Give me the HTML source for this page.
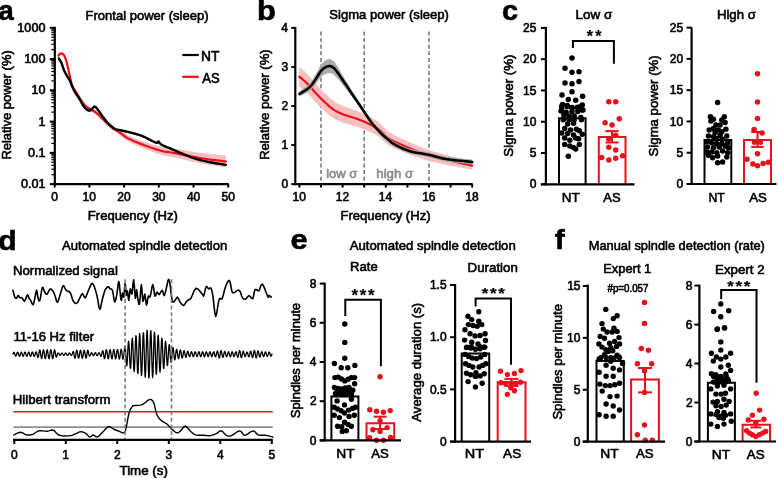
<!DOCTYPE html>
<html><head><meta charset="utf-8"><style>
html,body{margin:0;padding:0;background:#fff;}
svg{display:block;font-family:"Liberation Sans",sans-serif;will-change:transform;}
</style></head><body>
<svg width="778" height="478" viewBox="0 0 778 478">
<rect width="778" height="478" fill="#fff"/>
<text transform="translate(-1.59,20.30) scale(0.9679,1)" font-size="28.3" font-weight="bold" fill="#000" stroke="#000" stroke-width="0.6">a</text>
<text transform="translate(85.53,19.50) scale(0.9729,1)" font-size="13.4" fill="#000" stroke="#000" stroke-width="0.6">Frontal power (sleep)</text>
<line x1="51.30" y1="174.69" x2="54.80" y2="174.69" stroke="#000" stroke-width="1.2"/>
<line x1="51.30" y1="169.19" x2="54.80" y2="169.19" stroke="#000" stroke-width="1.2"/>
<line x1="51.30" y1="165.28" x2="54.80" y2="165.28" stroke="#000" stroke-width="1.2"/>
<line x1="51.30" y1="162.25" x2="54.80" y2="162.25" stroke="#000" stroke-width="1.2"/>
<line x1="51.30" y1="159.77" x2="54.80" y2="159.77" stroke="#000" stroke-width="1.2"/>
<line x1="51.30" y1="157.68" x2="54.80" y2="157.68" stroke="#000" stroke-width="1.2"/>
<line x1="51.30" y1="155.87" x2="54.80" y2="155.87" stroke="#000" stroke-width="1.2"/>
<line x1="51.30" y1="154.27" x2="54.80" y2="154.27" stroke="#000" stroke-width="1.2"/>
<line x1="51.30" y1="143.43" x2="54.80" y2="143.43" stroke="#000" stroke-width="1.2"/>
<line x1="51.30" y1="137.93" x2="54.80" y2="137.93" stroke="#000" stroke-width="1.2"/>
<line x1="51.30" y1="134.02" x2="54.80" y2="134.02" stroke="#000" stroke-width="1.2"/>
<line x1="51.30" y1="130.99" x2="54.80" y2="130.99" stroke="#000" stroke-width="1.2"/>
<line x1="51.30" y1="128.51" x2="54.80" y2="128.51" stroke="#000" stroke-width="1.2"/>
<line x1="51.30" y1="126.42" x2="54.80" y2="126.42" stroke="#000" stroke-width="1.2"/>
<line x1="51.30" y1="124.61" x2="54.80" y2="124.61" stroke="#000" stroke-width="1.2"/>
<line x1="51.30" y1="123.01" x2="54.80" y2="123.01" stroke="#000" stroke-width="1.2"/>
<line x1="51.30" y1="112.17" x2="54.80" y2="112.17" stroke="#000" stroke-width="1.2"/>
<line x1="51.30" y1="106.67" x2="54.80" y2="106.67" stroke="#000" stroke-width="1.2"/>
<line x1="51.30" y1="102.76" x2="54.80" y2="102.76" stroke="#000" stroke-width="1.2"/>
<line x1="51.30" y1="99.73" x2="54.80" y2="99.73" stroke="#000" stroke-width="1.2"/>
<line x1="51.30" y1="97.25" x2="54.80" y2="97.25" stroke="#000" stroke-width="1.2"/>
<line x1="51.30" y1="95.16" x2="54.80" y2="95.16" stroke="#000" stroke-width="1.2"/>
<line x1="51.30" y1="93.35" x2="54.80" y2="93.35" stroke="#000" stroke-width="1.2"/>
<line x1="51.30" y1="91.75" x2="54.80" y2="91.75" stroke="#000" stroke-width="1.2"/>
<line x1="51.30" y1="80.91" x2="54.80" y2="80.91" stroke="#000" stroke-width="1.2"/>
<line x1="51.30" y1="75.41" x2="54.80" y2="75.41" stroke="#000" stroke-width="1.2"/>
<line x1="51.30" y1="71.50" x2="54.80" y2="71.50" stroke="#000" stroke-width="1.2"/>
<line x1="51.30" y1="68.47" x2="54.80" y2="68.47" stroke="#000" stroke-width="1.2"/>
<line x1="51.30" y1="65.99" x2="54.80" y2="65.99" stroke="#000" stroke-width="1.2"/>
<line x1="51.30" y1="63.90" x2="54.80" y2="63.90" stroke="#000" stroke-width="1.2"/>
<line x1="51.30" y1="62.09" x2="54.80" y2="62.09" stroke="#000" stroke-width="1.2"/>
<line x1="51.30" y1="60.49" x2="54.80" y2="60.49" stroke="#000" stroke-width="1.2"/>
<line x1="51.30" y1="49.65" x2="54.80" y2="49.65" stroke="#000" stroke-width="1.2"/>
<line x1="51.30" y1="44.15" x2="54.80" y2="44.15" stroke="#000" stroke-width="1.2"/>
<line x1="51.30" y1="40.24" x2="54.80" y2="40.24" stroke="#000" stroke-width="1.2"/>
<line x1="51.30" y1="37.21" x2="54.80" y2="37.21" stroke="#000" stroke-width="1.2"/>
<line x1="51.30" y1="34.73" x2="54.80" y2="34.73" stroke="#000" stroke-width="1.2"/>
<line x1="51.30" y1="32.64" x2="54.80" y2="32.64" stroke="#000" stroke-width="1.2"/>
<line x1="51.30" y1="30.83" x2="54.80" y2="30.83" stroke="#000" stroke-width="1.2"/>
<line x1="51.30" y1="29.23" x2="54.80" y2="29.23" stroke="#000" stroke-width="1.2"/>
<line x1="49.80" y1="184.10" x2="54.80" y2="184.10" stroke="#000" stroke-width="2"/>
<line x1="49.80" y1="152.84" x2="54.80" y2="152.84" stroke="#000" stroke-width="2"/>
<line x1="49.80" y1="121.58" x2="54.80" y2="121.58" stroke="#000" stroke-width="2"/>
<line x1="49.80" y1="90.32" x2="54.80" y2="90.32" stroke="#000" stroke-width="2"/>
<line x1="49.80" y1="59.06" x2="54.80" y2="59.06" stroke="#000" stroke-width="2"/>
<line x1="49.80" y1="27.80" x2="54.80" y2="27.80" stroke="#000" stroke-width="2"/>
<line x1="54.80" y1="26.80" x2="54.80" y2="185.10" stroke="#000" stroke-width="2.2"/>
<line x1="53.80" y1="184.10" x2="228.70" y2="184.10" stroke="#000" stroke-width="2.2"/>
<line x1="54.70" y1="184.10" x2="54.70" y2="187.60" stroke="#000" stroke-width="2"/>
<line x1="89.40" y1="184.10" x2="89.40" y2="187.60" stroke="#000" stroke-width="2"/>
<line x1="124.10" y1="184.10" x2="124.10" y2="187.60" stroke="#000" stroke-width="2"/>
<line x1="158.80" y1="184.10" x2="158.80" y2="187.60" stroke="#000" stroke-width="2"/>
<line x1="193.50" y1="184.10" x2="193.50" y2="187.60" stroke="#000" stroke-width="2"/>
<line x1="228.20" y1="184.10" x2="228.20" y2="187.60" stroke="#000" stroke-width="2"/>
<text transform="translate(17.37,31.90) scale(1.0500,1)" font-size="12" fill="#000" stroke="#000" stroke-width="0.6">1000</text>
<text transform="translate(24.37,63.16) scale(1.0500,1)" font-size="12" fill="#000" stroke="#000" stroke-width="0.6">100</text>
<text transform="translate(31.38,94.42) scale(1.0500,1)" font-size="12" fill="#000" stroke="#000" stroke-width="0.6">10</text>
<text transform="translate(38.51,125.68) scale(1.0500,1)" font-size="12" fill="#000" stroke="#000" stroke-width="0.6">1</text>
<text transform="translate(28.00,156.94) scale(1.0500,1)" font-size="12" fill="#000" stroke="#000" stroke-width="0.6">0.1</text>
<text transform="translate(21.00,188.20) scale(1.0500,1)" font-size="12" fill="#000" stroke="#000" stroke-width="0.6">0.01</text>
<text transform="translate(51.36,200.80) scale(1.0000,1)" font-size="12" fill="#000" stroke="#000" stroke-width="0.6">0</text>
<text transform="translate(82.51,200.80) scale(1.0000,1)" font-size="12" fill="#000" stroke="#000" stroke-width="0.6">10</text>
<text transform="translate(117.36,200.80) scale(1.0000,1)" font-size="12" fill="#000" stroke="#000" stroke-width="0.6">20</text>
<text transform="translate(152.13,200.80) scale(1.0000,1)" font-size="12" fill="#000" stroke="#000" stroke-width="0.6">30</text>
<text transform="translate(186.92,200.80) scale(1.0000,1)" font-size="12" fill="#000" stroke="#000" stroke-width="0.6">40</text>
<text transform="translate(221.52,200.80) scale(1.0000,1)" font-size="12" fill="#000" stroke="#000" stroke-width="0.6">50</text>
<text transform="translate(10.70,159.56) rotate(-90) scale(0.9520,1)" font-size="13.6" fill="#000" stroke="#000" stroke-width="0.6">Relative power (%)</text>
<text transform="translate(87.83,219.70) scale(0.9767,1)" font-size="13.4" fill="#000" stroke="#000" stroke-width="0.6">Frequency (Hz)</text>
<line x1="182.30" y1="55.00" x2="198.80" y2="55.00" stroke="#000" stroke-width="2.2"/>
<line x1="182.30" y1="76.80" x2="198.80" y2="76.80" stroke="#e8101a" stroke-width="2.2"/>
<text transform="translate(201.06,60.90) scale(0.9681,1)" font-size="14.3" fill="#000" stroke="#000" stroke-width="0.6">NT</text>
<text transform="translate(202.17,82.90) scale(0.9135,1)" font-size="14.3" fill="#000" stroke="#000" stroke-width="0.6">AS</text>
<path d="M58.40,53.90 L58.67,53.56 L59.04,53.06 L59.49,52.51 L59.98,52.05 L60.50,51.80 L61.06,51.73 L61.69,51.76 L62.34,51.94 L62.99,52.30 L63.60,52.90 L64.17,53.74 L64.72,54.81 L65.25,56.07 L65.78,57.50 L66.30,59.10 L66.80,60.88 L67.28,62.84 L67.76,64.97 L68.26,67.23 L68.80,69.60 L69.38,72.22 L69.98,75.11 L70.61,78.06 L71.28,80.83 L72.00,83.20 L72.76,85.06 L73.56,86.56 L74.40,87.87 L75.28,89.16 L76.20,90.60 L77.18,92.23 L78.21,93.95 L79.27,95.68 L80.34,97.35 L81.40,98.90 L82.40,100.32 L83.37,101.66 L84.36,102.93 L85.42,104.11 L86.60,105.20 L87.96,106.16 L89.45,106.98 L91.01,107.72 L92.56,108.45 L94.00,109.28 L95.33,110.19 L96.60,111.15 L97.84,112.15 L99.06,113.19 L100.30,114.28 L101.54,115.45 L102.78,116.69 L104.02,117.97 L105.26,119.22 L106.50,120.39 L107.75,121.49 L109.01,122.56 L110.28,123.59 L111.54,124.57 L112.80,125.50 L114.02,126.32 L115.20,127.05 L116.41,127.76 L117.69,128.52 L119.10,129.40 L120.62,130.46 L122.22,131.63 L123.92,132.86 L125.77,134.08 L127.80,135.23 L130.10,136.32 L132.64,137.40 L135.29,138.44 L137.92,139.43 L140.40,140.34 L142.70,141.18 L144.92,141.94 L147.08,142.65 L149.23,143.33 L151.40,144.00 L153.58,144.68 L155.73,145.34 L157.89,145.97 L160.10,146.55 L162.40,147.06 L164.75,147.46 L167.14,147.76 L169.60,148.02 L172.17,148.31 L174.90,148.68 L177.84,149.16 L180.95,149.71 L184.17,150.29 L187.41,150.86 L190.60,151.39 L193.68,151.87 L196.69,152.33 L199.74,152.77 L202.91,153.19 L206.30,153.61 L210.28,154.04 L214.80,154.48 L219.28,154.90 L223.17,155.25 L225.90,155.50 L225.90,167.50 L223.17,167.08 L219.28,166.48 L214.80,165.79 L210.28,165.07 L206.30,164.39 L202.91,163.77 L199.74,163.15 L196.69,162.52 L193.68,161.88 L190.60,161.21 L187.41,160.48 L184.17,159.71 L180.95,158.93 L177.84,158.18 L174.90,157.52 L172.17,156.98 L169.60,156.54 L167.14,156.13 L164.75,155.68 L162.40,155.14 L160.10,154.48 L157.89,153.77 L155.73,153.00 L153.58,152.20 L151.40,151.40 L149.23,150.59 L147.08,149.78 L144.92,148.93 L142.70,148.03 L140.40,147.06 L137.92,145.99 L135.29,144.84 L132.64,143.63 L130.10,142.40 L127.80,141.17 L125.77,139.89 L123.92,138.55 L122.22,137.22 L120.62,135.95 L119.10,134.80 L117.69,133.83 L116.41,132.99 L115.20,132.21 L114.02,131.41 L112.80,130.50 L111.54,129.50 L110.28,128.44 L109.01,127.34 L107.75,126.19 L106.50,125.01 L105.26,123.76 L104.02,122.43 L102.78,121.08 L101.54,119.76 L100.30,118.52 L99.06,117.35 L97.84,116.23 L96.60,115.16 L95.33,114.12 L94.00,113.12 L92.56,112.21 L91.01,111.38 L89.45,110.58 L87.96,109.76 L86.60,108.80 L85.42,107.71 L84.36,106.53 L83.37,105.26 L82.40,103.92 L81.40,102.50 L80.34,100.95 L79.27,99.28 L78.21,97.55 L77.18,95.83 L76.20,94.20 L75.28,92.76 L74.40,91.47 L73.56,90.16 L72.76,88.66 L72.00,86.80 L71.28,84.43 L70.61,81.66 L69.98,78.71 L69.38,75.82 L68.80,73.20 L68.26,70.83 L67.76,68.57 L67.28,66.44 L66.80,64.48 L66.30,62.70 L65.78,61.10 L65.25,59.67 L64.72,58.41 L64.17,57.34 L63.60,56.50 L62.99,55.90 L62.34,55.54 L61.69,55.36 L61.06,55.33 L60.50,55.40 L59.98,55.65 L59.49,56.11 L59.04,56.66 L58.67,57.16 L58.40,57.50Z" fill="#f8bfbf" stroke="none"/>
<polyline points="58.40,55.70 58.67,55.36 59.04,54.86 59.49,54.31 59.98,53.85 60.50,53.60 61.06,53.53 61.69,53.56 62.34,53.74 62.99,54.10 63.60,54.70 64.17,55.54 64.72,56.61 65.25,57.87 65.78,59.30 66.30,60.90 66.80,62.68 67.28,64.64 67.76,66.77 68.26,69.03 68.80,71.40 69.38,74.02 69.98,76.91 70.61,79.86 71.28,82.63 72.00,85.00 72.76,86.86 73.56,88.36 74.40,89.67 75.28,90.96 76.20,92.40 77.18,94.03 78.21,95.75 79.27,97.48 80.34,99.15 81.40,100.70 82.40,102.12 83.37,103.46 84.36,104.73 85.42,105.91 86.60,107.00 87.96,107.96 89.45,108.78 91.01,109.55 92.56,110.33 94.00,111.20 95.33,112.16 96.60,113.16 97.84,114.19 99.06,115.27 100.30,116.40 101.54,117.61 102.78,118.89 104.02,120.20 105.26,121.49 106.50,122.70 107.75,123.84 109.01,124.95 110.28,126.01 111.54,127.03 112.80,128.00 114.02,128.86 115.20,129.63 116.41,130.37 117.69,131.17 119.10,132.10 120.62,133.20 122.22,134.42 123.92,135.71 125.77,136.99 127.80,138.20 130.10,139.36 132.64,140.52 135.29,141.64 137.92,142.71 140.40,143.70 142.70,144.61 144.92,145.44 147.08,146.22 149.23,146.96 151.40,147.70 153.58,148.44 155.73,149.17 157.89,149.87 160.10,150.52 162.40,151.10 164.75,151.57 167.14,151.94 169.60,152.28 172.17,152.65 174.90,153.10 177.84,153.67 180.95,154.32 184.17,155.00 187.41,155.67 190.60,156.30 193.68,156.88 196.69,157.43 199.74,157.96 202.91,158.48 206.30,159.00 210.28,159.55 214.80,160.13 219.28,160.69 223.17,161.16 225.90,161.50" fill="none" stroke="#e8101a" stroke-width="2.2" stroke-linejoin="round" stroke-linecap="round"/>
<polyline points="58.80,58.40 59.18,59.00 59.71,59.83 60.33,60.82 60.96,61.90 61.50,63.00 61.94,64.15 62.33,65.40 62.71,66.70 63.12,68.01 63.60,69.30 64.17,70.58 64.81,71.87 65.47,73.16 66.15,74.41 66.80,75.60 67.44,76.71 68.10,77.75 68.74,78.77 69.35,79.77 69.90,80.80 70.37,81.84 70.76,82.86 71.14,83.90 71.53,84.97 72.00,86.10 72.54,87.30 73.12,88.55 73.73,89.84 74.39,91.13 75.10,92.40 75.87,93.63 76.70,94.83 77.57,96.04 78.44,97.28 79.30,98.60 80.14,100.05 80.98,101.63 81.82,103.21 82.66,104.71 83.50,106.00 84.36,107.11 85.23,108.11 86.10,108.98 86.93,109.68 87.70,110.20 88.38,110.53 88.99,110.68 89.56,110.66 90.15,110.50 90.80,110.20 91.52,109.60 92.28,108.67 93.06,107.69 93.84,106.92 94.60,106.60 95.31,106.80 95.98,107.34 96.65,108.15 97.38,109.13 98.20,110.20 99.14,111.44 100.16,112.90 101.24,114.47 102.33,116.04 103.40,117.50 104.42,118.84 105.43,120.14 106.44,121.41 107.49,122.63 108.60,123.80 109.81,124.98 111.10,126.16 112.41,127.27 113.70,128.24 114.90,129.00 115.90,129.46 116.74,129.66 117.59,129.75 118.62,129.85 120.00,130.10 121.82,130.51 123.98,131.00 126.32,131.54 128.71,132.12 131.00,132.70 133.23,133.28 135.48,133.86 137.72,134.48 139.90,135.15 142.00,135.90 144.04,136.78 146.06,137.79 148.00,138.82 149.80,139.79 151.40,140.60 152.81,141.27 154.07,141.88 155.18,142.37 156.12,142.72 156.90,142.90 157.43,142.76 157.71,142.34 157.87,141.83 158.06,141.45 158.40,141.40 158.84,141.76 159.30,142.40 159.85,143.19 160.59,144.03 161.60,144.80 162.91,145.48 164.46,146.13 166.21,146.81 168.14,147.56 170.20,148.40 172.47,149.39 174.96,150.50 177.58,151.67 180.22,152.82 182.80,153.90 185.30,154.92 187.80,155.91 190.30,156.87 192.80,157.77 195.30,158.60 197.73,159.34 200.07,159.99 202.47,160.60 205.03,161.19 207.90,161.80 211.44,162.48 215.58,163.20 219.74,163.89 223.37,164.48 225.90,164.90" fill="none" stroke="#000" stroke-width="2.4" stroke-linejoin="round" stroke-linecap="round"/>
<text transform="translate(256.97,19.80) scale(1.0867,1)" font-size="28.3" font-weight="bold" fill="#000" stroke="#000" stroke-width="0.6">b</text>
<text transform="translate(329.30,18.90) scale(0.9734,1)" font-size="13.4" fill="#000" stroke="#000" stroke-width="0.6">Sigma power (sleep)</text>
<line x1="321.00" y1="31.50" x2="321.00" y2="184.10" stroke="#7a7a7a" stroke-width="1.6" stroke-dasharray="4,2.6"/>
<line x1="364.20" y1="31.50" x2="364.20" y2="184.10" stroke="#7a7a7a" stroke-width="1.6" stroke-dasharray="4,2.6"/>
<line x1="429.00" y1="31.50" x2="429.00" y2="184.10" stroke="#7a7a7a" stroke-width="1.6" stroke-dasharray="4,2.6"/>
<text transform="translate(326.13,177.80) scale(0.9977,1)" font-size="13" fill="#8a8a8a" stroke="#8a8a8a" stroke-width="0.6">low σ</text>
<text transform="translate(376.29,177.80) scale(1.0196,1)" font-size="13" fill="#8a8a8a" stroke="#8a8a8a" stroke-width="0.6">high σ</text>
<path d="M299.20,66.80 L300.34,67.77 L301.96,69.16 L303.84,70.81 L305.79,72.58 L307.60,74.36 L309.26,76.17 L310.92,78.13 L312.58,80.14 L314.24,82.13 L315.90,84.04 L317.57,85.85 L319.25,87.63 L320.94,89.37 L322.62,91.07 L324.30,92.72 L325.98,94.35 L327.66,95.96 L329.35,97.52 L331.03,98.98 L332.70,100.30 L334.36,101.48 L336.02,102.54 L337.68,103.49 L339.34,104.36 L341.00,105.18 L342.67,105.92 L344.35,106.55 L346.04,107.13 L347.72,107.68 L349.40,108.27 L351.08,108.86 L352.76,109.43 L354.45,110.00 L356.13,110.60 L357.80,111.25 L359.46,111.94 L361.12,112.67 L362.78,113.43 L364.44,114.22 L366.10,115.03 L367.82,115.89 L369.59,116.80 L371.34,117.73 L373.00,118.64 L374.50,119.51 L375.73,120.26 L376.75,120.89 L377.70,121.55 L378.74,122.34 L380.00,123.40 L381.48,124.81 L383.07,126.50 L384.80,128.32 L386.71,130.14 L388.80,131.79 L391.14,133.29 L393.70,134.70 L396.41,136.07 L399.20,137.41 L402.00,138.74 L404.88,140.08 L407.88,141.41 L410.90,142.72 L413.84,143.96 L416.60,145.13 L419.03,146.19 L421.21,147.16 L423.33,148.07 L425.63,148.98 L428.30,149.93 L431.30,150.89 L434.50,151.83 L437.95,152.79 L441.73,153.81 L445.90,154.92 L451.02,156.26 L457.06,157.79 L463.16,159.33 L468.48,160.67 L472.20,161.61 L472.20,169.59 L468.48,168.91 L463.16,167.93 L457.06,166.80 L451.02,165.67 L445.90,164.68 L441.73,163.85 L437.95,163.09 L434.50,162.36 L431.30,161.63 L428.30,160.87 L425.63,160.11 L423.33,159.35 L421.21,158.58 L419.03,157.76 L416.60,156.87 L413.84,155.89 L410.90,154.84 L407.88,153.74 L404.88,152.61 L402.00,151.46 L399.20,150.32 L396.41,149.17 L393.70,147.98 L391.14,146.74 L388.80,145.41 L386.71,143.89 L384.80,142.20 L383.07,140.50 L381.48,138.92 L380.00,137.60 L378.74,136.63 L377.70,135.91 L376.75,135.32 L375.73,134.75 L374.50,134.09 L373.00,133.32 L371.34,132.52 L369.59,131.71 L367.82,130.92 L366.10,130.17 L364.44,129.47 L362.78,128.79 L361.12,128.15 L359.46,127.53 L357.80,126.95 L356.13,126.42 L354.45,125.93 L352.76,125.47 L351.08,125.01 L349.40,124.53 L347.72,124.07 L346.04,123.62 L344.35,123.16 L342.67,122.64 L341.00,122.02 L339.34,121.31 L337.68,120.55 L336.02,119.71 L334.36,118.76 L332.70,117.70 L331.03,116.48 L329.35,115.14 L327.66,113.70 L325.98,112.20 L324.30,110.68 L322.62,109.14 L320.94,107.56 L319.25,105.94 L317.57,104.27 L315.90,102.56 L314.24,100.77 L312.58,98.89 L310.92,96.99 L309.26,95.15 L307.60,93.44 L305.79,91.79 L303.84,90.15 L301.96,88.63 L300.34,87.35 L299.20,86.40Z" fill="#f8bfbf" stroke="none"/>
<polyline points="299.20,76.60 300.34,77.56 301.96,78.89 303.84,80.48 305.79,82.19 307.60,83.90 309.26,85.66 310.92,87.56 312.58,89.51 314.24,91.45 315.90,93.30 317.57,95.06 319.25,96.78 320.94,98.47 322.62,100.11 324.30,101.70 325.98,103.27 327.66,104.83 329.35,106.33 331.03,107.73 332.70,109.00 334.36,110.12 336.02,111.12 337.68,112.02 339.34,112.84 341.00,113.60 342.67,114.28 344.35,114.85 346.04,115.37 347.72,115.88 349.40,116.40 351.08,116.93 352.76,117.45 354.45,117.97 356.13,118.51 357.80,119.10 359.46,119.74 361.12,120.41 362.78,121.11 364.44,121.84 366.10,122.60 367.82,123.40 369.59,124.25 371.34,125.12 373.00,125.98 374.50,126.80 375.73,127.50 376.75,128.10 377.70,128.73 378.74,129.49 380.00,130.50 381.48,131.86 383.07,133.50 384.80,135.26 386.71,137.01 388.80,138.60 391.14,140.01 393.70,141.34 396.41,142.62 399.20,143.86 402.00,145.10 404.88,146.34 407.88,147.58 410.90,148.78 413.84,149.93 416.60,151.00 419.03,151.98 421.21,152.87 423.33,153.71 425.63,154.54 428.30,155.40 431.30,156.26 434.50,157.09 437.95,157.94 441.73,158.83 445.90,159.80 451.02,160.96 457.06,162.30 463.16,163.63 468.48,164.79 472.20,165.60" fill="none" stroke="#e8101a" stroke-width="2.2" stroke-linejoin="round" stroke-linecap="round"/>
<path d="M299.40,91.28 L300.02,90.89 L300.90,90.34 L301.92,89.69 L302.99,88.98 L304.00,88.27 L304.97,87.56 L305.98,86.79 L306.99,86.00 L307.94,85.18 L308.80,84.38 L309.54,83.60 L310.20,82.84 L310.80,82.07 L311.39,81.27 L312.00,80.41 L312.63,79.47 L313.25,78.49 L313.86,77.46 L314.48,76.41 L315.10,75.34 L315.72,74.25 L316.34,73.11 L316.96,71.97 L317.58,70.83 L318.20,69.73 L318.82,68.64 L319.44,67.54 L320.05,66.48 L320.67,65.47 L321.30,64.55 L321.93,63.73 L322.56,62.97 L323.19,62.29 L323.84,61.67 L324.50,61.11 L325.19,60.61 L325.90,60.18 L326.62,59.81 L327.33,59.53 L328.00,59.32 L328.63,59.18 L329.24,59.10 L329.82,59.10 L330.41,59.19 L331.00,59.36 L331.59,59.63 L332.18,59.97 L332.76,60.40 L333.37,60.94 L334.00,61.58 L334.67,62.36 L335.36,63.27 L336.08,64.28 L336.79,65.34 L337.50,66.42 L338.12,67.40 L338.66,68.30 L339.25,69.29 L339.99,70.57 L341.00,72.31 L342.37,74.63 L344.01,77.42 L345.80,80.46 L347.64,83.52 L349.40,86.41 L351.10,89.15 L352.81,91.89 L354.52,94.56 L356.19,97.16 L357.80,99.64 L359.33,101.99 L360.80,104.25 L362.23,106.44 L363.66,108.60 L365.10,110.75 L366.54,112.91 L367.97,115.06 L369.40,117.18 L370.87,119.27 L372.40,121.29 L374.04,123.31 L375.79,125.32 L377.55,127.27 L379.24,129.09 L380.80,130.70 L382.16,132.04 L383.37,133.17 L384.52,134.17 L385.71,135.14 L387.00,136.20 L388.32,137.33 L389.60,138.46 L390.98,139.61 L392.60,140.78 L394.60,142.00 L397.02,143.32 L399.76,144.72 L402.77,146.13 L405.97,147.45 L409.30,148.60 L412.85,149.52 L416.66,150.26 L420.59,150.92 L424.52,151.57 L428.30,152.30 L431.77,153.14 L435.02,154.04 L438.30,154.94 L441.85,155.81 L445.90,156.60 L451.02,157.33 L457.06,158.04 L463.16,158.68 L468.48,159.21 L472.20,159.60 L472.20,164.40 L468.48,164.01 L463.16,163.48 L457.06,162.84 L451.02,162.13 L445.90,161.40 L441.85,160.61 L438.30,159.74 L435.02,158.84 L431.77,157.94 L428.30,157.10 L424.52,156.37 L420.59,155.72 L416.66,155.06 L412.85,154.32 L409.30,153.40 L405.97,152.25 L402.77,150.93 L399.76,149.52 L397.02,148.12 L394.60,146.80 L392.60,145.58 L390.98,144.41 L389.60,143.26 L388.32,142.13 L387.00,141.00 L385.71,139.94 L384.52,138.97 L383.37,137.97 L382.16,136.85 L380.80,135.50 L379.24,133.89 L377.55,132.07 L375.79,130.13 L374.04,128.12 L372.40,126.11 L370.87,124.09 L369.40,122.01 L367.97,119.91 L366.54,117.78 L365.10,115.65 L363.66,113.54 L362.23,111.44 L360.80,109.33 L359.33,107.17 L357.80,104.96 L356.19,102.67 L354.52,100.33 L352.81,97.98 L351.10,95.65 L349.40,93.39 L347.64,91.09 L345.80,88.72 L344.01,86.44 L342.37,84.39 L341.00,82.69 L339.99,81.43 L339.25,80.49 L338.66,79.75 L338.12,79.09 L337.50,78.38 L336.79,77.59 L336.08,76.81 L335.36,76.07 L334.67,75.39 L334.00,74.82 L333.37,74.35 L332.76,73.96 L332.18,73.66 L331.59,73.42 L331.00,73.24 L330.41,73.12 L329.82,73.08 L329.24,73.10 L328.63,73.17 L328.00,73.28 L327.33,73.44 L326.62,73.64 L325.90,73.88 L325.19,74.16 L324.50,74.49 L323.84,74.86 L323.19,75.28 L322.56,75.74 L321.93,76.26 L321.30,76.85 L320.67,77.51 L320.05,78.25 L319.44,79.05 L318.82,79.86 L318.20,80.67 L317.58,81.49 L316.96,82.34 L316.34,83.20 L315.72,84.04 L315.10,84.86 L314.48,85.65 L313.86,86.43 L313.25,87.19 L312.63,87.91 L312.00,88.59 L311.39,89.22 L310.80,89.80 L310.20,90.35 L309.54,90.88 L308.80,91.42 L307.94,91.97 L306.99,92.52 L305.98,93.06 L304.97,93.60 L304.00,94.13 L302.99,94.66 L301.92,95.22 L300.90,95.74 L300.02,96.19 L299.40,96.52Z" fill="#ababab" stroke="none"/>
<polyline points="299.40,93.90 300.02,93.54 300.90,93.04 301.92,92.45 302.99,91.82 304.00,91.20 304.97,90.58 305.98,89.93 306.99,89.26 307.94,88.58 308.80,87.90 309.54,87.24 310.20,86.60 310.80,85.94 311.39,85.25 312.00,84.50 312.63,83.69 313.25,82.84 313.86,81.94 314.48,81.03 315.10,80.10 315.72,79.15 316.34,78.16 316.96,77.16 317.58,76.16 318.20,75.20 318.82,74.25 319.44,73.29 320.05,72.37 320.67,71.49 321.30,70.70 321.93,70.00 322.56,69.36 323.19,68.78 323.84,68.26 324.50,67.80 325.19,67.39 325.90,67.03 326.62,66.72 327.33,66.48 328.00,66.30 328.63,66.17 329.24,66.10 329.82,66.09 330.41,66.15 331.00,66.30 331.59,66.52 332.18,66.81 332.76,67.18 333.37,67.64 334.00,68.20 334.67,68.88 335.36,69.67 336.08,70.54 336.79,71.47 337.50,72.40 338.12,73.25 338.66,74.02 339.25,74.89 339.99,76.00 341.00,77.50 342.37,79.51 344.01,81.93 345.80,84.59 347.64,87.30 349.40,89.90 351.10,92.40 352.81,94.93 354.52,97.45 356.19,99.92 357.80,102.30 359.33,104.58 360.80,106.79 362.23,108.94 363.66,111.07 365.10,113.20 366.54,115.34 367.97,117.48 369.40,119.60 370.87,121.68 372.40,123.70 374.04,125.71 375.79,127.73 377.55,129.67 379.24,131.49 380.80,133.10 382.16,134.44 383.37,135.57 384.52,136.57 385.71,137.54 387.00,138.60 388.32,139.73 389.60,140.86 390.98,142.01 392.60,143.18 394.60,144.40 397.02,145.72 399.76,147.12 402.77,148.53 405.97,149.85 409.30,151.00 412.85,151.92 416.66,152.66 420.59,153.32 424.52,153.97 428.30,154.70 431.77,155.54 435.02,156.44 438.30,157.34 441.85,158.21 445.90,159.00 451.02,159.73 457.06,160.44 463.16,161.08 468.48,161.61 472.20,162.00" fill="none" stroke="#000" stroke-width="2.6" stroke-linejoin="round" stroke-linecap="round"/>
<line x1="291.30" y1="184.10" x2="295.30" y2="184.10" stroke="#000" stroke-width="2"/>
<line x1="291.30" y1="145.05" x2="295.30" y2="145.05" stroke="#000" stroke-width="2"/>
<line x1="291.30" y1="106.00" x2="295.30" y2="106.00" stroke="#000" stroke-width="2"/>
<line x1="291.30" y1="66.95" x2="295.30" y2="66.95" stroke="#000" stroke-width="2"/>
<line x1="291.30" y1="27.90" x2="295.30" y2="27.90" stroke="#000" stroke-width="2"/>
<line x1="295.30" y1="26.90" x2="295.30" y2="185.10" stroke="#000" stroke-width="2.2"/>
<line x1="294.30" y1="184.10" x2="472.70" y2="184.10" stroke="#000" stroke-width="2.2"/>
<line x1="299.40" y1="184.10" x2="299.40" y2="187.60" stroke="#000" stroke-width="2"/>
<line x1="321.00" y1="184.10" x2="321.00" y2="187.60" stroke="#000" stroke-width="2"/>
<line x1="342.60" y1="184.10" x2="342.60" y2="187.60" stroke="#000" stroke-width="2"/>
<line x1="364.20" y1="184.10" x2="364.20" y2="187.60" stroke="#000" stroke-width="2"/>
<line x1="385.80" y1="184.10" x2="385.80" y2="187.60" stroke="#000" stroke-width="2"/>
<line x1="407.40" y1="184.10" x2="407.40" y2="187.60" stroke="#000" stroke-width="2"/>
<line x1="429.00" y1="184.10" x2="429.00" y2="187.60" stroke="#000" stroke-width="2"/>
<line x1="450.60" y1="184.10" x2="450.60" y2="187.60" stroke="#000" stroke-width="2"/>
<line x1="472.20" y1="184.10" x2="472.20" y2="187.60" stroke="#000" stroke-width="2"/>
<text transform="translate(281.40,188.20) scale(1.0000,1)" font-size="12" fill="#000" stroke="#000" stroke-width="0.6">0</text>
<text transform="translate(281.52,149.15) scale(1.0000,1)" font-size="12" fill="#000" stroke="#000" stroke-width="0.6">1</text>
<text transform="translate(281.53,110.10) scale(1.0000,1)" font-size="12" fill="#000" stroke="#000" stroke-width="0.6">2</text>
<text transform="translate(281.46,71.05) scale(1.0000,1)" font-size="12" fill="#000" stroke="#000" stroke-width="0.6">3</text>
<text transform="translate(281.28,32.00) scale(1.0000,1)" font-size="12" fill="#000" stroke="#000" stroke-width="0.6">4</text>
<text transform="translate(292.51,200.80) scale(1.0000,1)" font-size="12" fill="#000" stroke="#000" stroke-width="0.6">10</text>
<text transform="translate(335.77,200.80) scale(1.0000,1)" font-size="12" fill="#000" stroke="#000" stroke-width="0.6">12</text>
<text transform="translate(378.85,200.80) scale(1.0000,1)" font-size="12" fill="#000" stroke="#000" stroke-width="0.6">14</text>
<text transform="translate(422.14,200.80) scale(1.0000,1)" font-size="12" fill="#000" stroke="#000" stroke-width="0.6">16</text>
<text transform="translate(465.33,200.80) scale(1.0000,1)" font-size="12" fill="#000" stroke="#000" stroke-width="0.6">18</text>
<text transform="translate(269.20,159.87) rotate(-90) scale(0.9770,1)" font-size="13.4" fill="#000" stroke="#000" stroke-width="0.6">Relative power (%)</text>
<text transform="translate(340.43,219.70) scale(0.9767,1)" font-size="13.4" fill="#000" stroke="#000" stroke-width="0.6">Frequency (Hz)</text>
<text transform="translate(502.07,19.50) scale(1.0210,1)" font-size="28.3" font-weight="bold" fill="#000" stroke="#000" stroke-width="0.6">c</text>
<text transform="translate(575.50,19.00) scale(1.0346,1)" font-size="13" fill="#000" stroke="#000" stroke-width="0.6">Low σ</text>
<text transform="translate(716.92,19.20) scale(1.0134,1)" font-size="13" fill="#000" stroke="#000" stroke-width="0.6">High σ</text>
<path d="M559.00,184.30 V118.20 H585.60 V184.30" fill="none" stroke="#000" stroke-width="2"/>
<path d="M598.80,184.30 V137.10 H625.50 V184.30" fill="none" stroke="#e8101a" stroke-width="2"/>
<circle cx="572.00" cy="58.10" r="2.75" fill="#000"/>
<circle cx="565.00" cy="68.30" r="2.75" fill="#000"/>
<circle cx="572.00" cy="72.30" r="2.75" fill="#000"/>
<circle cx="579.00" cy="71.70" r="2.75" fill="#000"/>
<circle cx="565.00" cy="83.00" r="2.75" fill="#000"/>
<circle cx="572.00" cy="83.70" r="2.75" fill="#000"/>
<circle cx="579.00" cy="81.50" r="2.75" fill="#000"/>
<circle cx="572.00" cy="91.80" r="2.75" fill="#000"/>
<circle cx="562.00" cy="95.00" r="2.75" fill="#000"/>
<circle cx="582.60" cy="96.20" r="2.75" fill="#000"/>
<circle cx="568.30" cy="99.40" r="2.75" fill="#000"/>
<circle cx="575.70" cy="100.30" r="2.75" fill="#000"/>
<circle cx="562.50" cy="104.50" r="2.75" fill="#000"/>
<circle cx="567.30" cy="105.40" r="2.75" fill="#000"/>
<circle cx="572.00" cy="107.50" r="2.75" fill="#000"/>
<circle cx="577.10" cy="107.50" r="2.75" fill="#000"/>
<circle cx="582.30" cy="105.00" r="2.75" fill="#000"/>
<circle cx="561.70" cy="110.10" r="2.75" fill="#000"/>
<circle cx="582.30" cy="110.10" r="2.75" fill="#000"/>
<circle cx="564.70" cy="113.30" r="2.75" fill="#000"/>
<circle cx="561.70" cy="106.50" r="2.75" fill="#000"/>
<circle cx="567.00" cy="106.50" r="2.75" fill="#000"/>
<circle cx="572.00" cy="107.90" r="2.75" fill="#000"/>
<circle cx="579.00" cy="107.00" r="2.75" fill="#000"/>
<circle cx="583.00" cy="110.10" r="2.75" fill="#000"/>
<circle cx="561.00" cy="110.90" r="2.75" fill="#000"/>
<circle cx="566.10" cy="112.30" r="2.75" fill="#000"/>
<circle cx="572.00" cy="111.60" r="2.75" fill="#000"/>
<circle cx="577.90" cy="111.60" r="2.75" fill="#000"/>
<circle cx="563.90" cy="115.30" r="2.75" fill="#000"/>
<circle cx="569.10" cy="116.00" r="2.75" fill="#000"/>
<circle cx="574.20" cy="116.00" r="2.75" fill="#000"/>
<circle cx="580.80" cy="117.50" r="2.75" fill="#000"/>
<circle cx="563.20" cy="119.70" r="2.75" fill="#000"/>
<circle cx="569.10" cy="119.70" r="2.75" fill="#000"/>
<circle cx="574.20" cy="119.70" r="2.75" fill="#000"/>
<circle cx="581.50" cy="119.70" r="2.75" fill="#000"/>
<circle cx="567.60" cy="124.10" r="2.75" fill="#000"/>
<circle cx="573.50" cy="123.30" r="2.75" fill="#000"/>
<circle cx="564.70" cy="128.50" r="2.75" fill="#000"/>
<circle cx="570.50" cy="129.90" r="2.75" fill="#000"/>
<circle cx="576.40" cy="129.20" r="2.75" fill="#000"/>
<circle cx="579.30" cy="130.70" r="2.75" fill="#000"/>
<circle cx="561.70" cy="132.90" r="2.75" fill="#000"/>
<circle cx="582.30" cy="134.30" r="2.75" fill="#000"/>
<circle cx="567.60" cy="133.60" r="2.75" fill="#000"/>
<circle cx="573.50" cy="135.10" r="2.75" fill="#000"/>
<circle cx="564.70" cy="138.00" r="2.75" fill="#000"/>
<circle cx="569.80" cy="140.20" r="2.75" fill="#000"/>
<circle cx="575.70" cy="138.00" r="2.75" fill="#000"/>
<circle cx="578.60" cy="138.70" r="2.75" fill="#000"/>
<circle cx="564.70" cy="144.60" r="2.75" fill="#000"/>
<circle cx="569.80" cy="146.10" r="2.75" fill="#000"/>
<circle cx="573.50" cy="147.50" r="2.75" fill="#000"/>
<circle cx="579.30" cy="144.60" r="2.75" fill="#000"/>
<circle cx="575.70" cy="149.00" r="2.75" fill="#000"/>
<circle cx="568.30" cy="156.30" r="2.75" fill="#000"/>
<circle cx="608.80" cy="101.80" r="2.75" fill="#e8101a"/>
<circle cx="615.70" cy="101.80" r="2.75" fill="#e8101a"/>
<circle cx="619.30" cy="118.80" r="2.75" fill="#e8101a"/>
<circle cx="605.10" cy="122.70" r="2.75" fill="#e8101a"/>
<circle cx="612.00" cy="124.90" r="2.75" fill="#e8101a"/>
<circle cx="615.70" cy="135.20" r="2.75" fill="#e8101a"/>
<circle cx="608.80" cy="138.90" r="2.75" fill="#e8101a"/>
<circle cx="608.80" cy="147.20" r="2.75" fill="#e8101a"/>
<circle cx="615.70" cy="150.10" r="2.75" fill="#e8101a"/>
<circle cx="601.70" cy="157.60" r="2.75" fill="#e8101a"/>
<circle cx="608.80" cy="160.10" r="2.75" fill="#e8101a"/>
<circle cx="615.70" cy="158.20" r="2.75" fill="#e8101a"/>
<circle cx="622.60" cy="155.70" r="2.75" fill="#e8101a"/>
<line x1="612.00" y1="131.10" x2="612.00" y2="142.50" stroke="#e8101a" stroke-width="2"/>
<line x1="605.40" y1="131.10" x2="618.60" y2="131.10" stroke="#e8101a" stroke-width="2"/>
<line x1="605.40" y1="142.50" x2="618.60" y2="142.50" stroke="#e8101a" stroke-width="2"/>
<line x1="540.90" y1="184.30" x2="545.90" y2="184.30" stroke="#000" stroke-width="2"/>
<line x1="540.90" y1="153.02" x2="545.90" y2="153.02" stroke="#000" stroke-width="2"/>
<line x1="540.90" y1="121.74" x2="545.90" y2="121.74" stroke="#000" stroke-width="2"/>
<line x1="540.90" y1="90.46" x2="545.90" y2="90.46" stroke="#000" stroke-width="2"/>
<line x1="540.90" y1="59.18" x2="545.90" y2="59.18" stroke="#000" stroke-width="2"/>
<line x1="540.90" y1="27.90" x2="545.90" y2="27.90" stroke="#000" stroke-width="2"/>
<line x1="545.90" y1="26.90" x2="545.90" y2="185.30" stroke="#000" stroke-width="2.2"/>
<line x1="540.90" y1="184.30" x2="634.50" y2="184.30" stroke="#000" stroke-width="2.2"/>
<text transform="translate(529.70,188.40) scale(1.0000,1)" font-size="12" fill="#000" stroke="#000" stroke-width="0.6">0</text>
<text transform="translate(529.73,157.12) scale(1.0000,1)" font-size="12" fill="#000" stroke="#000" stroke-width="0.6">5</text>
<text transform="translate(523.02,125.84) scale(1.0000,1)" font-size="12" fill="#000" stroke="#000" stroke-width="0.6">10</text>
<text transform="translate(523.06,94.56) scale(1.0000,1)" font-size="12" fill="#000" stroke="#000" stroke-width="0.6">15</text>
<text transform="translate(523.02,63.28) scale(1.0000,1)" font-size="12" fill="#000" stroke="#000" stroke-width="0.6">20</text>
<text transform="translate(523.06,32.00) scale(1.0000,1)" font-size="12" fill="#000" stroke="#000" stroke-width="0.6">25</text>
<text transform="translate(561.80,201.70) scale(0.9953,1)" font-size="13.5" fill="#000" stroke="#000" stroke-width="0.6">NT</text>
<text transform="translate(603.27,201.70) scale(0.9619,1)" font-size="13.5" fill="#000" stroke="#000" stroke-width="0.6">AS</text>
<path d="M572.90,48.00 V41.10 H613.90 V63.70" fill="none" stroke="#000" stroke-width="2"/>
<text transform="translate(586.75,42.14) scale(0.9363,1)" font-size="17.2" font-weight="bold" fill="#000" stroke="#000" stroke-width="0.2">*</text>
<text transform="translate(595.15,42.14) scale(0.9363,1)" font-size="17.2" font-weight="bold" fill="#000" stroke="#000" stroke-width="0.2">*</text>
<text transform="translate(512.90,156.71) rotate(-90) scale(0.9959,1)" font-size="13.4" fill="#000" stroke="#000" stroke-width="0.6">Sigma power (%)</text>
<path d="M704.50,184.00 V140.00 H731.30 V184.00" fill="none" stroke="#000" stroke-width="2"/>
<path d="M744.00,184.00 V140.00 H771.00 V184.00" fill="none" stroke="#e8101a" stroke-width="2"/>
<circle cx="717.60" cy="102.50" r="2.75" fill="#000"/>
<circle cx="710.40" cy="116.80" r="2.75" fill="#000"/>
<circle cx="713.40" cy="119.30" r="2.75" fill="#000"/>
<circle cx="724.30" cy="116.80" r="2.75" fill="#000"/>
<circle cx="721.80" cy="120.10" r="2.75" fill="#000"/>
<circle cx="710.90" cy="120.90" r="2.75" fill="#000"/>
<circle cx="725.10" cy="122.60" r="2.75" fill="#000"/>
<circle cx="715.90" cy="125.10" r="2.75" fill="#000"/>
<circle cx="720.10" cy="125.10" r="2.75" fill="#000"/>
<circle cx="713.40" cy="128.50" r="2.75" fill="#000"/>
<circle cx="709.20" cy="130.10" r="2.75" fill="#000"/>
<circle cx="718.40" cy="130.10" r="2.75" fill="#000"/>
<circle cx="725.90" cy="129.30" r="2.75" fill="#000"/>
<circle cx="721.80" cy="131.80" r="2.75" fill="#000"/>
<circle cx="715.10" cy="132.60" r="2.75" fill="#000"/>
<circle cx="708.40" cy="136.00" r="2.75" fill="#000"/>
<circle cx="713.40" cy="136.80" r="2.75" fill="#000"/>
<circle cx="720.10" cy="135.20" r="2.75" fill="#000"/>
<circle cx="726.80" cy="136.00" r="2.75" fill="#000"/>
<circle cx="716.70" cy="138.50" r="2.75" fill="#000"/>
<circle cx="722.60" cy="139.30" r="2.75" fill="#000"/>
<circle cx="706.70" cy="141.80" r="2.75" fill="#000"/>
<circle cx="711.70" cy="142.70" r="2.75" fill="#000"/>
<circle cx="716.70" cy="143.50" r="2.75" fill="#000"/>
<circle cx="721.80" cy="143.50" r="2.75" fill="#000"/>
<circle cx="727.60" cy="142.70" r="2.75" fill="#000"/>
<circle cx="707.50" cy="146.90" r="2.75" fill="#000"/>
<circle cx="713.40" cy="147.70" r="2.75" fill="#000"/>
<circle cx="719.20" cy="146.90" r="2.75" fill="#000"/>
<circle cx="725.10" cy="146.00" r="2.75" fill="#000"/>
<circle cx="728.40" cy="147.70" r="2.75" fill="#000"/>
<circle cx="706.70" cy="151.90" r="2.75" fill="#000"/>
<circle cx="711.70" cy="151.90" r="2.75" fill="#000"/>
<circle cx="716.70" cy="152.70" r="2.75" fill="#000"/>
<circle cx="722.60" cy="151.00" r="2.75" fill="#000"/>
<circle cx="727.60" cy="152.70" r="2.75" fill="#000"/>
<circle cx="708.40" cy="155.20" r="2.75" fill="#000"/>
<circle cx="712.60" cy="157.70" r="2.75" fill="#000"/>
<circle cx="717.60" cy="156.10" r="2.75" fill="#000"/>
<circle cx="726.80" cy="156.90" r="2.75" fill="#000"/>
<circle cx="717.60" cy="162.70" r="2.75" fill="#000"/>
<circle cx="722.60" cy="161.90" r="2.75" fill="#000"/>
<circle cx="757.50" cy="73.80" r="2.75" fill="#e8101a"/>
<circle cx="757.50" cy="102.10" r="2.75" fill="#e8101a"/>
<circle cx="757.50" cy="118.60" r="2.75" fill="#e8101a"/>
<circle cx="754.10" cy="129.40" r="2.75" fill="#e8101a"/>
<circle cx="762.10" cy="133.10" r="2.75" fill="#e8101a"/>
<circle cx="754.50" cy="142.30" r="2.75" fill="#e8101a"/>
<circle cx="760.30" cy="142.30" r="2.75" fill="#e8101a"/>
<circle cx="757.50" cy="153.80" r="2.75" fill="#e8101a"/>
<circle cx="747.00" cy="159.30" r="2.75" fill="#e8101a"/>
<circle cx="752.90" cy="163.90" r="2.75" fill="#e8101a"/>
<circle cx="757.50" cy="165.80" r="2.75" fill="#e8101a"/>
<circle cx="763.10" cy="163.50" r="2.75" fill="#e8101a"/>
<circle cx="768.30" cy="162.30" r="2.75" fill="#e8101a"/>
<line x1="757.50" y1="132.00" x2="757.50" y2="146.90" stroke="#e8101a" stroke-width="2"/>
<line x1="751.20" y1="132.00" x2="763.80" y2="132.00" stroke="#e8101a" stroke-width="2"/>
<line x1="751.20" y1="146.90" x2="763.80" y2="146.90" stroke="#e8101a" stroke-width="2"/>
<line x1="686.60" y1="184.00" x2="691.60" y2="184.00" stroke="#000" stroke-width="2"/>
<line x1="686.60" y1="152.72" x2="691.60" y2="152.72" stroke="#000" stroke-width="2"/>
<line x1="686.60" y1="121.44" x2="691.60" y2="121.44" stroke="#000" stroke-width="2"/>
<line x1="686.60" y1="90.16" x2="691.60" y2="90.16" stroke="#000" stroke-width="2"/>
<line x1="686.60" y1="58.88" x2="691.60" y2="58.88" stroke="#000" stroke-width="2"/>
<line x1="686.60" y1="27.60" x2="691.60" y2="27.60" stroke="#000" stroke-width="2"/>
<line x1="691.60" y1="27.40" x2="691.60" y2="185.00" stroke="#000" stroke-width="2.2"/>
<line x1="686.60" y1="184.00" x2="776.50" y2="184.00" stroke="#000" stroke-width="2.2"/>
<text transform="translate(676.40,188.10) scale(1.0000,1)" font-size="12" fill="#000" stroke="#000" stroke-width="0.6">0</text>
<text transform="translate(676.43,156.82) scale(1.0000,1)" font-size="12" fill="#000" stroke="#000" stroke-width="0.6">5</text>
<text transform="translate(669.72,125.54) scale(1.0000,1)" font-size="12" fill="#000" stroke="#000" stroke-width="0.6">10</text>
<text transform="translate(669.76,94.26) scale(1.0000,1)" font-size="12" fill="#000" stroke="#000" stroke-width="0.6">15</text>
<text transform="translate(669.72,62.98) scale(1.0000,1)" font-size="12" fill="#000" stroke="#000" stroke-width="0.6">20</text>
<text transform="translate(669.76,31.70) scale(1.0000,1)" font-size="12" fill="#000" stroke="#000" stroke-width="0.6">25</text>
<text transform="translate(708.40,201.60) scale(0.9048,1)" font-size="13.5" fill="#000" stroke="#000" stroke-width="0.6">NT</text>
<text transform="translate(749.17,201.60) scale(0.9850,1)" font-size="13.5" fill="#000" stroke="#000" stroke-width="0.6">AS</text>
<text transform="translate(657.80,156.41) rotate(-90) scale(0.9840,1)" font-size="13.4" fill="#000" stroke="#000" stroke-width="0.6">Sigma power (%)</text>
<text transform="translate(-1.74,249.70) scale(1.0657,1)" font-size="28.3" font-weight="bold" fill="#000" stroke="#000" stroke-width="0.6">d</text>
<text transform="translate(61.97,249.80) scale(0.9785,1)" font-size="13.4" fill="#000" stroke="#000" stroke-width="0.6">Automated spindle detection</text>
<text transform="translate(12.92,274.50) scale(0.9856,1)" font-size="13.4" fill="#000" stroke="#000" stroke-width="0.6">Normalized signal</text>
<text transform="translate(13.40,340.80) scale(0.9795,1)" font-size="13.4" fill="#000" stroke="#000" stroke-width="0.6">11-16 Hz filter</text>
<text transform="translate(12.82,403.60) scale(0.9871,1)" font-size="13.4" fill="#000" stroke="#000" stroke-width="0.6">Hilbert transform</text>
<polyline points="12.90,290.20 13.34,292.03 13.96,294.58 14.60,296.60 15.20,297.68 15.80,298.24 16.40,298.30 16.97,297.51 17.54,296.22 18.10,295.50 18.64,295.97 19.19,297.01 19.80,297.80 20.52,297.84 21.30,297.63 22.10,297.80 22.87,299.04 23.66,300.66 24.50,301.20 25.47,299.46 26.50,296.64 27.40,294.90 28.06,295.35 28.58,296.88 29.10,298.30 29.64,299.11 30.19,299.82 30.80,300.70 31.54,302.32 32.35,304.11 33.10,304.70 33.74,303.23 34.33,300.56 34.90,297.80 35.49,294.76 36.06,291.63 36.60,290.20 37.07,291.78 37.51,295.05 38.00,297.80 38.54,299.71 39.13,301.11 39.80,300.70 40.62,296.80 41.53,291.11 42.40,287.40 43.19,287.69 43.94,289.97 44.70,292.00 45.44,293.21 46.19,294.17 47.00,294.30 47.92,292.87 48.91,290.60 49.90,289.10 50.89,289.03 51.88,289.72 52.80,290.80 53.61,292.23 54.36,294.05 55.10,296.00 55.84,298.58 56.59,301.30 57.40,302.40 58.32,300.80 59.31,297.58 60.30,294.30 61.27,290.95 62.23,287.54 63.20,285.60 64.12,286.23 65.04,288.34 66.10,290.20 67.42,290.95 68.88,291.46 70.20,292.60 71.24,295.07 72.14,298.18 73.10,300.70 74.21,302.30 75.39,303.31 76.50,303.50 77.50,302.54 78.45,300.75 79.40,298.90 80.37,296.87 81.33,294.77 82.30,293.70 83.27,294.77 84.23,296.87 85.20,297.80 86.11,296.51 87.03,294.05 88.10,291.40 89.43,288.10 90.91,284.60 92.40,283.30 93.91,285.60 95.44,290.10 96.80,294.90 97.90,300.36 98.83,306.13 99.70,309.30 100.53,308.05 101.30,304.20 102.10,300.30 102.99,296.94 103.90,293.54 104.70,290.90 105.29,289.49 105.77,288.84 106.30,288.30 106.99,287.56 107.73,286.92 108.40,286.70 108.90,287.14 109.34,288.00 109.90,288.80 110.70,289.00 111.63,289.15 112.50,290.40 113.24,294.18 113.92,299.06 114.60,301.90 115.30,301.24 116.00,298.55 116.70,295.10 117.42,290.06 118.14,284.27 118.80,281.50 119.39,284.33 119.93,290.18 120.40,295.10 120.77,297.92 121.08,299.80 121.40,300.30 121.75,298.37 122.11,295.04 122.50,293.00 122.92,294.21 123.36,296.69 123.80,297.20 124.23,293.06 124.67,286.93 125.10,283.60 125.54,286.16 125.99,291.50 126.40,295.10 126.74,294.36 127.05,291.87 127.40,290.90 127.83,293.80 128.31,298.21 128.80,300.30 129.29,297.39 129.79,292.16 130.30,288.80 130.82,290.04 131.35,293.16 131.90,294.10 132.49,289.61 133.11,282.95 133.70,279.90 134.26,284.58 134.80,292.87 135.30,298.20 135.76,296.75 136.18,292.34 136.60,289.90 137.02,291.90 137.44,295.86 137.90,299.30 138.40,302.11 138.94,304.39 139.50,304.00 140.09,297.98 140.71,289.28 141.30,284.60 141.84,288.41 142.35,296.24 142.90,301.40 143.52,300.08 144.17,296.08 144.80,294.10 145.38,297.12 145.93,302.16 146.50,305.00 147.09,303.15 147.69,299.10 148.30,296.10 148.90,296.07 149.51,297.09 150.20,296.70 151.03,292.73 151.94,287.36 152.80,284.60 153.54,287.26 154.22,292.55 154.90,296.10 155.60,295.64 156.30,293.45 157.00,292.00 157.66,292.62 158.33,293.99 159.10,294.60 160.10,293.36 161.20,291.36 162.20,290.40 162.96,292.00 163.60,294.64 164.30,295.60 165.17,293.29 166.09,289.29 166.90,285.70 167.51,282.91 168.00,280.51 168.50,279.40 169.01,279.87 169.53,281.63 170.10,284.60 170.74,289.79 171.44,296.19 172.20,300.80 173.03,302.13 173.91,301.67 174.80,300.80 175.67,299.56 176.53,297.92 177.40,297.20 178.23,298.20 179.05,300.11 180.00,301.90 181.18,303.44 182.48,304.86 183.70,305.40 184.70,304.50 185.63,302.73 186.70,301.10 188.01,300.26 189.47,299.56 191.00,298.10 192.52,294.75 194.11,290.64 195.90,288.30 198.20,289.34 200.71,292.14 202.60,294.40 203.36,295.54 203.51,296.14 203.80,295.60 204.54,292.90 205.43,289.06 206.30,286.50 207.11,286.56 207.90,287.90 208.70,288.90 209.52,288.58 210.34,287.93 211.10,288.30 211.74,290.08 212.33,292.89 213.00,296.90 213.81,303.95 214.72,312.21 215.70,316.40 216.80,312.80 217.97,305.13 219.10,299.30 220.10,298.33 221.06,299.19 222.10,298.70 223.28,295.07 224.54,290.08 225.80,285.90 227.08,282.91 228.36,280.74 229.50,280.40 230.40,283.21 231.15,287.85 231.90,291.40 232.65,292.66 233.40,292.84 234.30,292.60 235.49,291.88 236.81,290.74 238.00,290.10 238.91,290.27 239.69,290.94 240.40,292.00 241.03,293.70 241.60,295.81 242.30,297.50 243.19,298.58 244.21,299.24 245.30,299.30 246.48,298.22 247.74,296.53 249.00,295.60 250.28,296.59 251.56,298.33 252.70,298.70 253.55,296.16 254.25,292.24 255.10,289.50 256.24,289.46 257.53,290.58 258.80,290.80 259.94,288.40 261.06,285.11 262.40,284.00 264.25,287.37 266.31,292.92 267.90,296.90 268.58,297.41 268.79,296.35 269.10,295.60 269.84,295.95 270.69,296.61 271.30,297.10" fill="none" stroke="#000" stroke-width="1.6" stroke-linejoin="round" stroke-linecap="round"/>
<polyline points="13.00,354.03 13.35,352.94 13.70,352.28 14.05,352.27 14.40,352.93 14.75,354.03 15.10,355.19 15.45,356.01 15.80,356.22 16.15,355.73 16.50,354.72 16.85,353.52 17.20,352.55 17.55,352.14 17.90,352.44 18.25,353.35 18.60,354.55 18.95,355.64 19.30,356.24 19.65,356.14 20.00,355.37 20.35,354.20 20.70,353.02 21.05,352.25 21.40,352.14 21.75,352.74 22.10,353.84 22.45,355.07 22.80,356.01 23.15,356.33 23.50,355.92 23.85,354.91 24.20,353.66 24.55,352.59 24.90,352.06 25.25,352.27 25.60,353.14 25.95,354.38 26.30,355.57 26.65,356.28 27.00,356.29 27.35,355.57 27.70,354.39 28.05,353.13 28.40,352.23 28.75,352.01 29.10,352.54 29.45,353.64 29.80,354.94 30.15,355.99 30.50,356.43 30.85,356.10 31.20,355.12 31.55,353.82 31.90,352.65 32.25,352.00 32.60,352.11 32.95,352.93 33.30,354.20 33.65,355.47 34.00,356.31 34.35,356.43 34.70,355.78 35.05,354.59 35.40,353.26 35.75,352.24 36.10,351.85 36.45,352.15 36.80,353.29 37.15,354.94 37.50,356.55 37.85,357.49 38.20,357.33 38.55,356.01 38.90,353.87 39.25,351.63 39.60,350.11 39.95,349.92 40.30,351.37 40.65,353.82 41.00,356.39 41.35,358.22 41.70,358.66 42.05,357.58 42.40,355.33 42.75,352.70 43.10,350.58 43.45,349.70 43.80,350.37 44.15,352.35 44.50,354.96 44.85,357.31 45.20,358.60 45.55,358.38 45.90,356.72 46.25,354.20 46.60,351.68 46.95,350.02 47.30,349.80 47.65,351.09 48.00,353.44 48.35,356.05 48.70,358.03 49.05,358.70 49.40,357.82 49.75,355.70 50.10,353.07 50.45,350.82 50.80,349.74 51.15,350.18 51.50,352.01 51.85,354.58 52.20,357.03 52.55,358.50 52.90,358.50 53.25,357.03 53.60,354.58 53.95,352.01 54.30,350.18 54.65,349.74 55.00,350.82 55.35,353.16 55.70,355.44 56.05,356.89 56.40,357.16 56.75,356.39 57.10,355.10 57.45,353.89 57.80,353.22 58.15,353.03 58.50,353.09 58.85,353.53 59.20,354.20 59.55,354.87 59.90,355.31 60.25,355.37 60.60,355.03 60.95,354.40 61.30,353.71 61.65,353.18 62.00,353.00 62.35,353.24 62.70,353.80 63.05,354.50 63.40,355.10 63.75,355.39 64.10,355.27 64.45,354.79 64.80,354.10 65.15,353.45 65.50,353.05 65.85,353.05 66.20,353.45 66.55,354.10 66.90,354.79 67.25,355.27 67.60,355.39 67.95,355.10 68.30,354.50 68.65,353.80 69.00,353.24 69.35,353.00 69.70,353.18 70.05,353.71 70.40,354.40 70.75,355.03 71.10,355.37 71.45,355.31 71.80,354.87 72.15,354.20 72.50,353.14 72.85,351.98 73.20,351.38 73.55,351.87 73.90,353.55 74.25,355.85 74.60,357.61 74.95,358.20 75.30,357.42 75.65,355.53 76.00,353.19 76.35,351.20 76.70,350.23 77.05,350.63 77.40,352.25 77.75,354.54 78.10,356.71 78.45,358.02 78.80,358.02 79.15,356.71 79.50,354.54 79.85,352.25 80.20,350.63 80.55,350.23 80.90,351.20 81.25,353.19 81.60,355.53 81.95,357.42 82.30,358.20 82.65,357.61 83.00,355.85 83.35,353.52 83.70,351.43 84.05,350.29 84.40,350.49 84.75,351.96 85.10,354.20 85.45,356.44 85.80,357.91 86.15,358.11 86.50,356.97 86.85,354.88 87.20,352.55 87.55,350.79 87.90,350.20 88.25,351.24 88.60,353.12 88.95,354.91 89.30,355.98 89.65,356.12 90.00,355.54 90.35,354.93 90.70,354.07 91.05,353.26 91.40,352.77 91.75,352.77 92.10,353.26 92.45,354.07 92.80,354.93 93.15,355.54 93.50,355.69 93.85,355.33 94.20,354.58 94.55,353.70 94.90,352.99 95.25,352.70 95.60,352.92 95.95,353.58 96.30,354.45 96.65,355.24 97.00,355.67 97.35,355.59 97.70,355.04 98.05,354.20 98.40,353.36 98.75,352.81 99.10,352.73 99.45,353.16 99.80,353.95 100.15,354.86 100.50,355.80 100.85,356.34 101.20,356.13 101.55,355.09 101.90,353.46 102.25,351.81 102.60,350.78 102.95,350.89 103.30,352.26 103.65,354.56 104.00,357.03 104.35,358.51 104.70,358.52 105.05,357.04 105.40,354.58 105.75,351.98 106.10,350.13 106.45,349.68 106.80,350.77 107.15,353.05 107.50,355.73 107.85,357.90 108.20,358.80 108.55,358.13 108.90,356.10 109.25,353.42 109.60,350.99 109.95,349.66 110.30,349.88 110.65,351.59 111.00,354.20 111.35,356.82 111.70,358.55 112.05,358.80 112.40,357.46 112.75,355.00 113.10,352.25 113.45,350.17 113.80,349.46 114.15,350.38 114.50,352.61 114.85,355.40 115.20,357.79 115.55,358.95 115.90,358.48 116.25,356.54 116.60,353.79 116.95,351.17 117.30,349.58 117.65,349.57 118.00,351.15 118.35,353.79 118.70,356.57 119.05,358.55 119.40,359.05 119.75,357.87 120.10,355.44 120.45,352.56 120.80,350.24 121.15,349.28 121.50,350.00 121.85,352.16 122.20,355.04 122.55,357.63 122.90,359.06 123.25,358.82 123.60,356.99 123.95,354.20 124.30,350.84 124.65,347.55 125.00,346.05 125.35,347.80 125.70,352.54 126.05,358.49 126.40,363.57 126.75,365.77 127.10,363.91 127.45,358.31 127.80,351.02 128.15,344.52 128.50,341.14 128.85,342.20 129.20,347.51 129.55,355.39 129.90,363.16 130.25,368.09 130.60,368.35 130.95,363.67 131.30,355.50 131.65,346.58 132.00,340.01 132.35,338.17 132.70,341.86 133.05,349.99 133.40,359.86 133.75,368.07 134.10,371.71 134.45,369.35 134.80,361.64 135.15,351.10 135.50,341.32 135.85,335.74 136.20,336.49 136.55,343.42 136.90,354.20 137.25,365.16 137.60,372.51 137.95,373.65 138.30,368.08 138.65,357.62 139.00,345.81 139.35,336.71 139.70,333.52 140.05,337.43 140.40,347.20 140.75,359.54 141.10,370.22 141.45,375.52 141.80,373.54 142.15,364.84 142.50,352.34 142.85,340.29 143.20,332.88 143.55,332.72 143.90,339.99 144.25,352.27 144.60,365.39 144.95,374.83 145.30,377.27 145.65,371.78 146.00,360.14 146.35,346.29 146.70,334.98 147.05,330.16 147.40,333.57 147.75,344.16 148.10,358.34 148.45,371.11 148.80,378.05 149.15,376.80 149.50,367.81 149.85,354.20 150.20,340.63 150.55,331.76 150.90,330.60 151.25,337.53 151.60,350.14 151.95,364.09 152.30,374.45 152.65,377.69 153.00,372.89 153.35,361.86 153.70,348.47 154.05,337.34 154.40,332.18 154.75,334.61 155.10,343.63 155.45,356.02 155.80,367.49 156.15,374.17 156.50,373.92 156.85,366.99 157.20,355.90 157.55,344.53 157.90,336.72 158.25,335.04 158.60,339.90 158.95,349.47 159.30,360.37 159.65,368.88 160.00,372.18 160.35,369.27 160.70,361.36 161.05,351.31 161.40,342.59 161.75,338.10 162.10,339.20 162.45,345.32 162.80,354.20 163.15,362.74 163.50,368.06 163.85,368.50 164.20,364.11 164.55,356.57 164.90,348.55 165.25,342.78 165.60,341.11 165.95,343.91 166.30,350.04 166.65,357.27 167.00,363.11 167.35,365.68 167.70,364.26 168.05,359.54 168.40,353.30 168.75,347.70 169.10,344.60 169.45,344.90 169.80,348.28 170.15,353.43 170.50,358.50 170.85,361.80 171.20,362.33 171.55,360.13 171.90,356.11 172.25,351.75 172.60,348.47 172.95,347.30 173.30,348.51 173.65,351.54 174.00,355.26 174.35,358.37 174.70,359.88 175.05,359.39 175.40,357.21 175.75,354.20 176.10,351.41 176.45,349.63 176.80,349.44 177.15,350.87 177.50,353.40 177.85,356.13 178.20,358.15 178.55,358.77 178.90,357.83 179.25,355.69 179.60,353.09 179.95,350.94 180.30,349.95 180.65,350.43 181.00,352.17 181.35,354.55 181.70,356.74 182.05,358.02 182.40,357.95 182.75,356.62 183.10,354.52 183.45,352.38 183.80,350.93 184.15,350.63 184.50,351.55 184.85,353.33 185.20,355.33 185.55,356.88 185.90,357.47 186.25,356.93 186.60,355.49 186.95,353.68 187.30,352.12 187.65,351.33 188.00,351.53 188.35,352.63 188.70,354.20 189.05,355.70 189.40,356.62 189.75,356.69 190.10,355.93 190.45,354.62 190.80,353.17 191.15,352.07 191.50,351.70 191.85,352.19 192.20,353.37 192.55,354.83 192.90,356.08 193.25,356.68 193.60,356.43 193.95,355.42 194.30,353.99 194.65,352.63 195.00,351.81 195.35,351.81 195.70,352.63 196.05,353.99 196.40,355.42 196.75,356.43 197.10,356.68 197.45,356.08 197.80,354.83 198.15,353.37 198.50,352.19 198.85,351.70 199.20,352.07 199.55,353.17 199.90,354.62 200.25,355.93 200.60,356.64 200.95,356.52 201.30,355.60 201.65,354.20 202.00,352.80 202.35,351.88 202.70,351.76 203.05,352.47 203.40,353.78 203.75,355.23 204.10,356.33 204.45,356.70 204.80,356.21 205.15,355.03 205.50,353.57 205.85,352.32 206.20,351.72 206.55,351.97 206.90,352.98 207.25,354.41 207.60,355.77 207.95,356.59 208.30,356.59 208.65,355.77 209.00,354.41 209.35,352.98 209.70,351.97 210.05,351.72 210.40,352.32 210.75,353.57 211.10,355.03 211.45,356.21 211.80,356.70 212.15,356.33 212.50,355.23 212.85,353.78 213.20,352.47 213.55,351.76 213.90,351.88 214.25,352.80 214.60,354.20 214.95,355.60 215.30,356.60 215.65,356.83 216.00,356.14 216.35,354.69 216.70,352.96 217.05,351.55 217.40,350.98 217.75,351.53 218.10,353.06 218.45,355.09 218.80,356.93 219.15,357.91 219.50,357.64 219.85,356.13 220.20,353.87 220.55,351.77 220.90,350.59 221.25,350.67 221.60,351.94 221.95,353.90 222.30,355.87 222.65,357.18 223.00,357.42 223.35,356.57 223.70,354.97 224.05,353.20 224.40,351.87 224.75,351.39 225.10,351.88 225.45,353.11 225.80,354.63 226.15,355.93 226.50,356.64 226.85,356.52 227.20,355.60 227.55,354.20 227.90,352.80 228.25,351.88 228.60,351.76 228.95,352.47 229.30,353.78 229.65,355.23 230.00,356.33 230.35,356.70 230.70,356.21 231.05,355.03 231.40,353.57 231.75,352.32 232.10,351.72 232.45,351.97 232.80,352.98 233.15,354.41 233.50,355.77 233.85,356.59 234.20,356.59 234.55,355.77 234.90,354.41 235.25,352.98 235.60,351.97 235.95,351.72 236.30,352.24 236.65,353.51 237.00,355.16 237.35,356.62 237.70,357.33 238.05,356.98 238.40,355.60 238.75,353.60 239.10,351.67 239.45,350.49 239.80,350.56 240.15,351.99 240.50,354.20 240.85,356.28 241.20,357.54 241.55,357.61 241.90,356.53 242.25,354.75 242.60,352.91 242.95,351.63 243.30,351.30 243.65,351.96 244.00,353.31 244.35,354.84 244.70,356.03 245.05,356.50 245.40,356.16 245.75,355.22 246.10,354.03 246.45,352.88 246.80,352.12 247.15,352.04 247.50,352.73 247.85,354.00 248.20,355.41 248.55,356.49 248.90,356.82 249.25,356.24 249.60,354.91 249.95,353.24 250.30,351.82 250.65,351.17 251.00,351.55 251.35,352.89 251.70,354.75 252.05,356.51 252.40,357.55 252.75,357.45 253.10,356.20 253.45,354.20 253.80,352.11 254.15,350.66 254.50,350.40 254.85,351.46 255.20,353.53 255.55,355.80 255.90,357.44 256.25,357.93 256.60,357.14 256.95,355.39 257.30,353.32 257.65,351.62 258.00,350.87 258.35,351.27 258.70,352.64 259.05,354.47 259.40,356.12 259.75,357.05 260.10,356.98 260.45,355.98 260.80,354.43 261.15,352.89 261.50,351.87 261.85,351.69 262.20,352.33 262.55,353.58 262.90,355.02 263.25,356.16 263.60,356.62 263.95,356.25 264.30,355.18 264.65,353.80 265.00,352.57 265.35,351.92 265.70,352.05 266.05,352.91 266.40,354.20 266.75,355.47 267.10,356.28 267.45,356.38 267.80,355.73 268.15,354.57 268.50,353.30 268.85,352.36 269.20,352.06 269.55,352.49 269.90,353.50 270.25,354.73 270.60,355.75 270.95,356.24 271.30,356.02 271.65,355.18 272.00,354.03" fill="none" stroke="#000" stroke-width="1.3" stroke-linejoin="round" stroke-linecap="round"/>
<line x1="13.30" y1="411.80" x2="272.80" y2="411.80" stroke="#e8101a" stroke-width="1.6"/>
<line x1="13.30" y1="427.10" x2="272.80" y2="427.10" stroke="#8f8f8f" stroke-width="1.6"/>
<polyline points="13.90,434.90 15.10,434.31 16.82,433.44 18.73,432.65 20.50,432.30 22.06,432.66 23.57,433.48 25.08,434.35 26.60,434.90 28.15,435.04 29.70,434.98 31.25,434.73 32.80,434.30 34.28,433.54 35.73,432.49 37.23,431.47 38.90,430.80 40.85,430.66 42.99,430.84 45.14,431.11 47.10,431.20 48.79,430.91 50.33,430.41 51.80,430.05 53.30,430.20 54.73,431.16 56.09,432.66 57.58,434.21 59.40,435.30 61.78,435.79 64.55,435.94 67.32,435.88 69.70,435.70 71.54,435.37 73.07,434.86 74.44,434.26 75.80,433.70 77.17,433.08 78.46,432.39 79.73,431.83 81.00,431.60 82.31,431.80 83.64,432.31 84.93,432.99 86.10,433.70 87.13,434.57 88.05,435.61 88.92,436.53 89.80,437.00 90.67,436.76 91.52,436.03 92.39,435.26 93.30,434.90 94.26,435.29 95.25,436.11 96.29,436.85 97.40,437.00 98.58,436.32 99.83,435.13 101.13,433.70 102.50,432.30 103.98,430.77 105.54,429.05 107.11,427.55 108.60,426.70 109.97,426.77 111.26,427.47 112.53,428.42 113.80,429.20 115.08,429.74 116.36,430.25 117.63,430.73 118.90,431.20 120.25,431.80 121.64,432.47 122.94,432.93 124.00,432.90 124.69,432.43 125.13,431.62 125.50,430.28 126.00,428.20 126.70,424.89 127.48,420.59 128.30,416.25 129.10,412.80 129.90,410.48 130.72,408.80 131.51,407.57 132.20,406.60 132.61,405.98 132.83,405.78 133.21,405.73 134.10,405.60 135.73,405.45 137.87,405.36 140.17,405.14 142.30,404.60 144.24,403.42 146.16,401.80 147.94,400.30 149.50,399.50 150.77,399.49 151.81,399.98 152.72,400.98 153.60,402.50 154.40,404.86 155.10,407.95 155.80,411.14 156.60,413.80 157.50,415.76 158.45,417.36 159.50,418.72 160.70,420.00 162.13,421.13 163.74,422.06 165.38,422.97 166.90,424.00 168.25,425.25 169.52,426.62 170.75,427.98 172.00,429.20 173.30,430.38 174.61,431.54 175.90,432.46 177.10,432.90 178.20,432.71 179.21,432.04 180.20,431.12 181.20,430.20 182.20,429.06 183.18,427.66 184.20,426.51 185.30,426.10 186.53,426.76 187.84,428.16 189.18,429.81 190.50,431.20 191.71,432.30 192.86,433.34 194.11,434.24 195.60,434.90 197.48,435.23 199.64,435.31 201.82,435.28 203.80,435.30 205.47,435.46 206.97,435.65 208.42,435.77 209.90,435.70 211.47,435.39 213.06,434.91 214.62,434.32 216.10,433.70 217.45,432.86 218.72,431.84 219.95,431.03 221.20,430.80 222.47,431.50 223.75,432.84 225.03,434.29 226.30,435.30 227.50,435.81 228.66,436.09 229.91,436.07 231.40,435.70 233.30,434.63 235.49,432.99 237.69,431.49 239.60,430.80 241.04,431.47 242.20,433.03 243.36,434.59 244.80,435.30 246.71,434.61 248.91,433.08 251.10,431.53 253.00,430.80 254.45,431.31 255.62,432.54 256.76,433.93 258.10,434.90 259.72,435.23 261.49,435.25 263.34,435.20 265.20,435.30 267.24,435.67 269.44,436.18 271.42,436.66 272.80,437.00" fill="none" stroke="#000" stroke-width="1.4" stroke-linejoin="round" stroke-linecap="round"/>
<line x1="125.10" y1="279.20" x2="125.10" y2="439.80" stroke="#7a7a7a" stroke-width="1.6" stroke-dasharray="4,2.6"/>
<line x1="171.50" y1="279.20" x2="171.50" y2="439.80" stroke="#7a7a7a" stroke-width="1.6" stroke-dasharray="4,2.6"/>
<line x1="13.00" y1="439.80" x2="272.80" y2="439.80" stroke="#000" stroke-width="2.2"/>
<line x1="14.30" y1="439.80" x2="14.30" y2="444.00" stroke="#000" stroke-width="2"/>
<line x1="65.80" y1="439.80" x2="65.80" y2="444.00" stroke="#000" stroke-width="2"/>
<line x1="117.30" y1="439.80" x2="117.30" y2="444.00" stroke="#000" stroke-width="2"/>
<line x1="168.80" y1="439.80" x2="168.80" y2="444.00" stroke="#000" stroke-width="2"/>
<line x1="220.30" y1="439.80" x2="220.30" y2="444.00" stroke="#000" stroke-width="2"/>
<line x1="271.80" y1="439.80" x2="271.80" y2="444.00" stroke="#000" stroke-width="2"/>
<text transform="translate(10.96,458.50) scale(1.0000,1)" font-size="12" fill="#000" stroke="#000" stroke-width="0.6">0</text>
<text transform="translate(62.30,458.50) scale(1.0000,1)" font-size="12" fill="#000" stroke="#000" stroke-width="0.6">1</text>
<text transform="translate(113.96,458.50) scale(1.0000,1)" font-size="12" fill="#000" stroke="#000" stroke-width="0.6">2</text>
<text transform="translate(165.50,458.50) scale(1.0000,1)" font-size="12" fill="#000" stroke="#000" stroke-width="0.6">3</text>
<text transform="translate(217.00,458.50) scale(1.0000,1)" font-size="12" fill="#000" stroke="#000" stroke-width="0.6">4</text>
<text transform="translate(268.48,458.50) scale(1.0000,1)" font-size="12" fill="#000" stroke="#000" stroke-width="0.6">5</text>
<text transform="translate(119.51,474.70) scale(0.9957,1)" font-size="13.4" fill="#000" stroke="#000" stroke-width="0.6">Time (s)</text>
<text transform="translate(290.50,249.40) scale(1.0901,1)" font-size="28.3" font-weight="bold" fill="#000" stroke="#000" stroke-width="0.6">e</text>
<text transform="translate(349.77,249.80) scale(0.9827,1)" font-size="13.4" fill="#000" stroke="#000" stroke-width="0.6">Automated spindle detection</text>
<text transform="translate(350.02,271.40) scale(0.9807,1)" font-size="13.4" fill="#000" stroke="#000" stroke-width="0.6">Rate</text>
<text transform="translate(467.61,271.60) scale(0.9921,1)" font-size="13.4" fill="#000" stroke="#000" stroke-width="0.6">Duration</text>
<path d="M331.40,440.40 V396.40 H358.40 V440.40" fill="none" stroke="#000" stroke-width="2"/>
<path d="M366.50,440.40 V423.20 H394.20 V440.40" fill="none" stroke="#e8101a" stroke-width="2"/>
<circle cx="344.80" cy="324.00" r="2.7" fill="#000"/>
<circle cx="344.80" cy="342.40" r="2.7" fill="#000"/>
<circle cx="344.80" cy="358.30" r="2.7" fill="#000"/>
<circle cx="334.40" cy="363.50" r="2.7" fill="#000"/>
<circle cx="341.20" cy="367.70" r="2.7" fill="#000"/>
<circle cx="347.80" cy="367.70" r="2.7" fill="#000"/>
<circle cx="354.90" cy="365.40" r="2.7" fill="#000"/>
<circle cx="334.90" cy="377.60" r="2.7" fill="#000"/>
<circle cx="338.20" cy="377.10" r="2.7" fill="#000"/>
<circle cx="341.50" cy="379.00" r="2.7" fill="#000"/>
<circle cx="344.80" cy="380.90" r="2.7" fill="#000"/>
<circle cx="348.10" cy="379.30" r="2.7" fill="#000"/>
<circle cx="351.40" cy="377.60" r="2.7" fill="#000"/>
<circle cx="354.60" cy="377.60" r="2.7" fill="#000"/>
<circle cx="354.60" cy="383.70" r="2.7" fill="#000"/>
<circle cx="334.40" cy="387.50" r="2.7" fill="#000"/>
<circle cx="338.20" cy="388.40" r="2.7" fill="#000"/>
<circle cx="341.50" cy="388.90" r="2.7" fill="#000"/>
<circle cx="345.20" cy="387.90" r="2.7" fill="#000"/>
<circle cx="349.00" cy="387.50" r="2.7" fill="#000"/>
<circle cx="352.80" cy="390.30" r="2.7" fill="#000"/>
<circle cx="337.20" cy="391.20" r="2.7" fill="#000"/>
<circle cx="341.00" cy="392.20" r="2.7" fill="#000"/>
<circle cx="344.80" cy="392.20" r="2.7" fill="#000"/>
<circle cx="348.50" cy="391.20" r="2.7" fill="#000"/>
<circle cx="335.40" cy="393.60" r="2.7" fill="#000"/>
<circle cx="351.40" cy="393.60" r="2.7" fill="#000"/>
<circle cx="336.50" cy="394.00" r="2.7" fill="#000"/>
<circle cx="341.10" cy="394.60" r="2.7" fill="#000"/>
<circle cx="345.70" cy="394.60" r="2.7" fill="#000"/>
<circle cx="350.90" cy="395.20" r="2.7" fill="#000"/>
<circle cx="337.10" cy="400.90" r="2.7" fill="#000"/>
<circle cx="351.40" cy="399.20" r="2.7" fill="#000"/>
<circle cx="344.50" cy="404.90" r="2.7" fill="#000"/>
<circle cx="334.20" cy="407.20" r="2.7" fill="#000"/>
<circle cx="337.60" cy="409.00" r="2.7" fill="#000"/>
<circle cx="341.10" cy="410.70" r="2.7" fill="#000"/>
<circle cx="344.50" cy="413.00" r="2.7" fill="#000"/>
<circle cx="348.60" cy="410.10" r="2.7" fill="#000"/>
<circle cx="352.60" cy="408.40" r="2.7" fill="#000"/>
<circle cx="355.50" cy="407.20" r="2.7" fill="#000"/>
<circle cx="334.20" cy="415.30" r="2.7" fill="#000"/>
<circle cx="339.40" cy="417.60" r="2.7" fill="#000"/>
<circle cx="349.10" cy="416.40" r="2.7" fill="#000"/>
<circle cx="354.30" cy="415.30" r="2.7" fill="#000"/>
<circle cx="344.50" cy="422.20" r="2.7" fill="#000"/>
<circle cx="337.60" cy="426.20" r="2.7" fill="#000"/>
<circle cx="341.70" cy="426.80" r="2.7" fill="#000"/>
<circle cx="348.00" cy="424.50" r="2.7" fill="#000"/>
<circle cx="351.40" cy="426.20" r="2.7" fill="#000"/>
<circle cx="342.20" cy="431.40" r="2.7" fill="#000"/>
<circle cx="346.30" cy="430.80" r="2.7" fill="#000"/>
<circle cx="380.10" cy="376.80" r="2.7" fill="#e8101a"/>
<circle cx="369.80" cy="409.70" r="2.7" fill="#e8101a"/>
<circle cx="376.60" cy="411.30" r="2.7" fill="#e8101a"/>
<circle cx="383.40" cy="412.20" r="2.7" fill="#e8101a"/>
<circle cx="390.20" cy="410.60" r="2.7" fill="#e8101a"/>
<circle cx="380.10" cy="420.80" r="2.7" fill="#e8101a"/>
<circle cx="372.90" cy="429.70" r="2.7" fill="#e8101a"/>
<circle cx="387.20" cy="427.60" r="2.7" fill="#e8101a"/>
<circle cx="380.10" cy="431.40" r="2.7" fill="#e8101a"/>
<circle cx="369.50" cy="437.80" r="2.7" fill="#e8101a"/>
<circle cx="376.60" cy="440.30" r="2.7" fill="#e8101a"/>
<circle cx="383.40" cy="440.30" r="2.7" fill="#e8101a"/>
<circle cx="390.60" cy="437.40" r="2.7" fill="#e8101a"/>
<line x1="380.10" y1="416.70" x2="380.10" y2="429.00" stroke="#e8101a" stroke-width="2"/>
<line x1="373.60" y1="416.70" x2="386.60" y2="416.70" stroke="#e8101a" stroke-width="2"/>
<line x1="373.60" y1="429.00" x2="386.60" y2="429.00" stroke="#e8101a" stroke-width="2"/>
<line x1="319.70" y1="440.40" x2="324.70" y2="440.40" stroke="#000" stroke-width="2"/>
<line x1="319.70" y1="401.20" x2="324.70" y2="401.20" stroke="#000" stroke-width="2"/>
<line x1="319.70" y1="362.00" x2="324.70" y2="362.00" stroke="#000" stroke-width="2"/>
<line x1="319.70" y1="322.80" x2="324.70" y2="322.80" stroke="#000" stroke-width="2"/>
<line x1="319.70" y1="283.60" x2="324.70" y2="283.60" stroke="#000" stroke-width="2"/>
<line x1="324.70" y1="282.60" x2="324.70" y2="441.40" stroke="#000" stroke-width="2.2"/>
<line x1="319.70" y1="440.40" x2="401.00" y2="440.40" stroke="#000" stroke-width="2.2"/>
<text transform="translate(309.80,444.50) scale(1.0000,1)" font-size="12" fill="#000" stroke="#000" stroke-width="0.6">0</text>
<text transform="translate(309.93,405.30) scale(1.0000,1)" font-size="12" fill="#000" stroke="#000" stroke-width="0.6">2</text>
<text transform="translate(309.68,366.10) scale(1.0000,1)" font-size="12" fill="#000" stroke="#000" stroke-width="0.6">4</text>
<text transform="translate(309.86,326.90) scale(1.0000,1)" font-size="12" fill="#000" stroke="#000" stroke-width="0.6">6</text>
<text transform="translate(309.84,287.70) scale(1.0000,1)" font-size="12" fill="#000" stroke="#000" stroke-width="0.6">8</text>
<text transform="translate(336.16,458.10) scale(1.0255,1)" font-size="13.5" fill="#000" stroke="#000" stroke-width="0.6">NT</text>
<text transform="translate(371.27,458.10) scale(0.9734,1)" font-size="13.5" fill="#000" stroke="#000" stroke-width="0.6">AS</text>
<path d="M345.30,315.90 V299.70 H380.90 V366.20" fill="none" stroke="#000" stroke-width="2"/>
<text transform="translate(351.55,300.55) scale(0.9966,1)" font-size="16.94" font-weight="bold" fill="#000" stroke="#000" stroke-width="0.2">*</text>
<text transform="translate(359.75,300.55) scale(0.9966,1)" font-size="16.94" font-weight="bold" fill="#000" stroke="#000" stroke-width="0.2">*</text>
<text transform="translate(367.95,300.55) scale(0.9966,1)" font-size="16.94" font-weight="bold" fill="#000" stroke="#000" stroke-width="0.2">*</text>
<text transform="translate(300.30,418.20) rotate(-90) scale(0.9742,1)" font-size="13.4" fill="#000" stroke="#000" stroke-width="0.6">Spindles per minute</text>
<path d="M461.70,441.60 V353.50 H489.20 V441.60" fill="none" stroke="#000" stroke-width="2"/>
<path d="M497.70,441.60 V382.30 H525.50 V441.60" fill="none" stroke="#e8101a" stroke-width="2"/>
<circle cx="478.80" cy="311.70" r="2.7" fill="#000"/>
<circle cx="468.00" cy="316.30" r="2.7" fill="#000"/>
<circle cx="471.70" cy="319.60" r="2.7" fill="#000"/>
<circle cx="478.80" cy="321.30" r="2.7" fill="#000"/>
<circle cx="468.40" cy="324.60" r="2.7" fill="#000"/>
<circle cx="473.00" cy="325.50" r="2.7" fill="#000"/>
<circle cx="477.20" cy="326.30" r="2.7" fill="#000"/>
<circle cx="481.80" cy="324.60" r="2.7" fill="#000"/>
<circle cx="465.00" cy="329.70" r="2.7" fill="#000"/>
<circle cx="470.10" cy="333.80" r="2.7" fill="#000"/>
<circle cx="475.10" cy="335.90" r="2.7" fill="#000"/>
<circle cx="480.10" cy="335.50" r="2.7" fill="#000"/>
<circle cx="485.10" cy="333.80" r="2.7" fill="#000"/>
<circle cx="464.60" cy="340.10" r="2.7" fill="#000"/>
<circle cx="471.70" cy="342.20" r="2.7" fill="#000"/>
<circle cx="485.50" cy="340.50" r="2.7" fill="#000"/>
<circle cx="466.70" cy="347.20" r="2.7" fill="#000"/>
<circle cx="471.30" cy="346.80" r="2.7" fill="#000"/>
<circle cx="478.00" cy="343.90" r="2.7" fill="#000"/>
<circle cx="480.10" cy="346.80" r="2.7" fill="#000"/>
<circle cx="483.90" cy="347.20" r="2.7" fill="#000"/>
<circle cx="466.50" cy="347.60" r="2.7" fill="#000"/>
<circle cx="470.70" cy="348.10" r="2.7" fill="#000"/>
<circle cx="475.40" cy="349.20" r="2.7" fill="#000"/>
<circle cx="480.10" cy="348.70" r="2.7" fill="#000"/>
<circle cx="484.80" cy="347.10" r="2.7" fill="#000"/>
<circle cx="465.00" cy="354.40" r="2.7" fill="#000"/>
<circle cx="468.60" cy="356.50" r="2.7" fill="#000"/>
<circle cx="472.30" cy="358.10" r="2.7" fill="#000"/>
<circle cx="476.50" cy="358.60" r="2.7" fill="#000"/>
<circle cx="480.70" cy="357.00" r="2.7" fill="#000"/>
<circle cx="484.80" cy="354.40" r="2.7" fill="#000"/>
<circle cx="465.50" cy="363.80" r="2.7" fill="#000"/>
<circle cx="469.10" cy="365.40" r="2.7" fill="#000"/>
<circle cx="472.80" cy="367.00" r="2.7" fill="#000"/>
<circle cx="479.10" cy="367.00" r="2.7" fill="#000"/>
<circle cx="482.70" cy="365.40" r="2.7" fill="#000"/>
<circle cx="485.90" cy="363.80" r="2.7" fill="#000"/>
<circle cx="466.50" cy="373.30" r="2.7" fill="#000"/>
<circle cx="470.70" cy="374.80" r="2.7" fill="#000"/>
<circle cx="475.40" cy="376.40" r="2.7" fill="#000"/>
<circle cx="480.10" cy="375.90" r="2.7" fill="#000"/>
<circle cx="484.30" cy="373.80" r="2.7" fill="#000"/>
<circle cx="475.90" cy="372.70" r="2.7" fill="#000"/>
<circle cx="468.10" cy="381.60" r="2.7" fill="#000"/>
<circle cx="482.20" cy="383.20" r="2.7" fill="#000"/>
<circle cx="475.40" cy="386.90" r="2.7" fill="#000"/>
<circle cx="500.50" cy="371.30" r="2.7" fill="#e8101a"/>
<circle cx="507.40" cy="374.60" r="2.7" fill="#e8101a"/>
<circle cx="514.40" cy="373.50" r="2.7" fill="#e8101a"/>
<circle cx="521.00" cy="370.60" r="2.7" fill="#e8101a"/>
<circle cx="500.90" cy="382.70" r="2.7" fill="#e8101a"/>
<circle cx="505.60" cy="383.40" r="2.7" fill="#e8101a"/>
<circle cx="511.10" cy="383.10" r="2.7" fill="#e8101a"/>
<circle cx="515.90" cy="383.40" r="2.7" fill="#e8101a"/>
<circle cx="520.60" cy="382.30" r="2.7" fill="#e8101a"/>
<circle cx="510.70" cy="387.80" r="2.7" fill="#e8101a"/>
<circle cx="514.40" cy="390.70" r="2.7" fill="#e8101a"/>
<circle cx="507.40" cy="394.40" r="2.7" fill="#e8101a"/>
<line x1="511.50" y1="378.90" x2="511.50" y2="386.00" stroke="#e8101a" stroke-width="2"/>
<line x1="504.50" y1="378.90" x2="518.50" y2="378.90" stroke="#e8101a" stroke-width="2"/>
<line x1="504.50" y1="386.00" x2="518.50" y2="386.00" stroke="#e8101a" stroke-width="2"/>
<line x1="450.10" y1="441.60" x2="455.10" y2="441.60" stroke="#000" stroke-width="2"/>
<line x1="450.10" y1="389.40" x2="455.10" y2="389.40" stroke="#000" stroke-width="2"/>
<line x1="450.10" y1="337.20" x2="455.10" y2="337.20" stroke="#000" stroke-width="2"/>
<line x1="450.10" y1="285.00" x2="455.10" y2="285.00" stroke="#000" stroke-width="2"/>
<line x1="455.10" y1="284.00" x2="455.10" y2="442.60" stroke="#000" stroke-width="2.2"/>
<line x1="450.10" y1="441.60" x2="531.00" y2="441.60" stroke="#000" stroke-width="2.2"/>
<text transform="translate(439.90,445.70) scale(1.0000,1)" font-size="12" fill="#000" stroke="#000" stroke-width="0.6">0</text>
<text transform="translate(429.92,393.50) scale(1.0000,1)" font-size="12" fill="#000" stroke="#000" stroke-width="0.6">0.5</text>
<text transform="translate(429.89,341.30) scale(1.0000,1)" font-size="12" fill="#000" stroke="#000" stroke-width="0.6">1.0</text>
<text transform="translate(429.92,289.10) scale(1.0000,1)" font-size="12" fill="#000" stroke="#000" stroke-width="0.6">1.5</text>
<text transform="translate(464.71,458.10) scale(1.0737,1)" font-size="13.5" fill="#000" stroke="#000" stroke-width="0.6">NT</text>
<text transform="translate(503.07,458.10) scale(1.0080,1)" font-size="13.5" fill="#000" stroke="#000" stroke-width="0.6">AS</text>
<path d="M475.60,306.50 V298.40 H511.00 V364.80" fill="none" stroke="#000" stroke-width="2"/>
<text transform="translate(481.85,298.03) scale(1.2314,1)" font-size="13.71" font-weight="bold" fill="#000" stroke="#000" stroke-width="0.2">*</text>
<text transform="translate(490.05,298.03) scale(1.2314,1)" font-size="13.71" font-weight="bold" fill="#000" stroke="#000" stroke-width="0.2">*</text>
<text transform="translate(498.25,298.03) scale(1.2314,1)" font-size="13.71" font-weight="bold" fill="#000" stroke="#000" stroke-width="0.2">*</text>
<text transform="translate(420.60,421.73) rotate(-90) scale(0.9833,1)" font-size="13.4" fill="#000" stroke="#000" stroke-width="0.6">Average duration (s)</text>
<text transform="translate(554.79,249.30) scale(1.0556,1)" font-size="28.3" font-weight="bold" fill="#000" stroke="#000" stroke-width="0.6">f</text>
<text transform="translate(588.75,249.80) scale(0.9585,1)" font-size="13.4" fill="#000" stroke="#000" stroke-width="0.6">Manual spindle detection (rate)</text>
<text transform="translate(603.14,273.20) scale(0.9658,1)" font-size="13.4" fill="#000" stroke="#000" stroke-width="0.6">Expert 1</text>
<text transform="translate(715.01,273.50) scale(0.9931,1)" font-size="13.4" fill="#000" stroke="#000" stroke-width="0.6">Expert 2</text>
<path d="M596.50,441.60 V361.00 H623.80 V441.60" fill="none" stroke="#000" stroke-width="2"/>
<path d="M631.10,441.60 V379.40 H658.90 V441.60" fill="none" stroke="#e8101a" stroke-width="2"/>
<circle cx="605.80" cy="309.40" r="2.7" fill="#000"/>
<circle cx="617.10" cy="315.70" r="2.7" fill="#000"/>
<circle cx="613.30" cy="318.60" r="2.7" fill="#000"/>
<circle cx="602.00" cy="323.60" r="2.7" fill="#000"/>
<circle cx="603.30" cy="329.10" r="2.7" fill="#000"/>
<circle cx="607.10" cy="332.00" r="2.7" fill="#000"/>
<circle cx="612.10" cy="332.00" r="2.7" fill="#000"/>
<circle cx="614.00" cy="328.20" r="2.7" fill="#000"/>
<circle cx="617.10" cy="331.40" r="2.7" fill="#000"/>
<circle cx="600.20" cy="336.40" r="2.7" fill="#000"/>
<circle cx="604.50" cy="338.30" r="2.7" fill="#000"/>
<circle cx="619.00" cy="337.60" r="2.7" fill="#000"/>
<circle cx="609.60" cy="343.30" r="2.7" fill="#000"/>
<circle cx="614.60" cy="341.40" r="2.7" fill="#000"/>
<circle cx="619.60" cy="343.90" r="2.7" fill="#000"/>
<circle cx="598.90" cy="343.90" r="2.7" fill="#000"/>
<circle cx="602.00" cy="347.10" r="2.7" fill="#000"/>
<circle cx="605.80" cy="349.60" r="2.7" fill="#000"/>
<circle cx="610.80" cy="347.70" r="2.7" fill="#000"/>
<circle cx="616.50" cy="346.40" r="2.7" fill="#000"/>
<circle cx="608.30" cy="351.40" r="2.7" fill="#000"/>
<circle cx="612.70" cy="350.80" r="2.7" fill="#000"/>
<circle cx="604.50" cy="354.60" r="2.7" fill="#000"/>
<circle cx="617.10" cy="355.20" r="2.7" fill="#000"/>
<circle cx="600.80" cy="357.70" r="2.7" fill="#000"/>
<circle cx="610.80" cy="357.70" r="2.7" fill="#000"/>
<circle cx="619.00" cy="357.10" r="2.7" fill="#000"/>
<circle cx="599.10" cy="358.90" r="2.7" fill="#000"/>
<circle cx="606.10" cy="357.40" r="2.7" fill="#000"/>
<circle cx="614.00" cy="358.10" r="2.7" fill="#000"/>
<circle cx="619.50" cy="357.40" r="2.7" fill="#000"/>
<circle cx="610.80" cy="361.30" r="2.7" fill="#000"/>
<circle cx="622.60" cy="363.60" r="2.7" fill="#000"/>
<circle cx="606.10" cy="365.20" r="2.7" fill="#000"/>
<circle cx="613.20" cy="368.30" r="2.7" fill="#000"/>
<circle cx="619.50" cy="369.90" r="2.7" fill="#000"/>
<circle cx="599.10" cy="372.30" r="2.7" fill="#000"/>
<circle cx="606.10" cy="376.20" r="2.7" fill="#000"/>
<circle cx="613.20" cy="376.20" r="2.7" fill="#000"/>
<circle cx="599.90" cy="384.10" r="2.7" fill="#000"/>
<circle cx="605.30" cy="385.60" r="2.7" fill="#000"/>
<circle cx="610.00" cy="385.60" r="2.7" fill="#000"/>
<circle cx="614.80" cy="384.80" r="2.7" fill="#000"/>
<circle cx="619.50" cy="383.30" r="2.7" fill="#000"/>
<circle cx="602.20" cy="391.10" r="2.7" fill="#000"/>
<circle cx="610.00" cy="396.60" r="2.7" fill="#000"/>
<circle cx="617.10" cy="396.10" r="2.7" fill="#000"/>
<circle cx="606.10" cy="404.00" r="2.7" fill="#000"/>
<circle cx="613.20" cy="406.00" r="2.7" fill="#000"/>
<circle cx="619.50" cy="410.00" r="2.7" fill="#000"/>
<circle cx="599.10" cy="414.70" r="2.7" fill="#000"/>
<circle cx="606.10" cy="416.20" r="2.7" fill="#000"/>
<circle cx="613.20" cy="416.20" r="2.7" fill="#000"/>
<circle cx="644.50" cy="302.40" r="2.7" fill="#e8101a"/>
<circle cx="644.50" cy="323.50" r="2.7" fill="#e8101a"/>
<circle cx="641.30" cy="348.50" r="2.7" fill="#e8101a"/>
<circle cx="648.40" cy="350.20" r="2.7" fill="#e8101a"/>
<circle cx="637.40" cy="363.80" r="2.7" fill="#e8101a"/>
<circle cx="651.70" cy="363.80" r="2.7" fill="#e8101a"/>
<circle cx="644.50" cy="370.70" r="2.7" fill="#e8101a"/>
<circle cx="644.50" cy="392.40" r="2.7" fill="#e8101a"/>
<circle cx="644.50" cy="425.00" r="2.7" fill="#e8101a"/>
<circle cx="637.40" cy="434.70" r="2.7" fill="#e8101a"/>
<circle cx="645.20" cy="440.20" r="2.7" fill="#e8101a"/>
<circle cx="652.30" cy="440.20" r="2.7" fill="#e8101a"/>
<line x1="645.00" y1="368.00" x2="645.00" y2="392.40" stroke="#e8101a" stroke-width="2"/>
<line x1="638.00" y1="368.00" x2="652.00" y2="368.00" stroke="#e8101a" stroke-width="2"/>
<line x1="638.00" y1="392.40" x2="652.00" y2="392.40" stroke="#e8101a" stroke-width="2"/>
<line x1="582.80" y1="441.60" x2="587.80" y2="441.60" stroke="#000" stroke-width="2"/>
<line x1="582.80" y1="389.73" x2="587.80" y2="389.73" stroke="#000" stroke-width="2"/>
<line x1="582.80" y1="337.87" x2="587.80" y2="337.87" stroke="#000" stroke-width="2"/>
<line x1="582.80" y1="286.00" x2="587.80" y2="286.00" stroke="#000" stroke-width="2"/>
<line x1="587.80" y1="284.60" x2="587.80" y2="442.60" stroke="#000" stroke-width="2.2"/>
<line x1="582.80" y1="441.60" x2="665.00" y2="441.60" stroke="#000" stroke-width="2.2"/>
<text transform="translate(573.80,445.70) scale(1.0000,1)" font-size="12" fill="#000" stroke="#000" stroke-width="0.6">0</text>
<text transform="translate(573.83,393.83) scale(1.0000,1)" font-size="12" fill="#000" stroke="#000" stroke-width="0.6">5</text>
<text transform="translate(567.12,341.97) scale(1.0000,1)" font-size="12" fill="#000" stroke="#000" stroke-width="0.6">10</text>
<text transform="translate(567.16,290.10) scale(1.0000,1)" font-size="12" fill="#000" stroke="#000" stroke-width="0.6">15</text>
<text transform="translate(600.36,458.00) scale(1.0255,1)" font-size="13.5" fill="#000" stroke="#000" stroke-width="0.6">NT</text>
<text transform="translate(635.97,458.00) scale(0.9792,1)" font-size="13.5" fill="#000" stroke="#000" stroke-width="0.6">AS</text>
<text transform="translate(607.46,291.60) scale(0.9306,1)" font-size="10.5" fill="#000" stroke="#000" stroke-width="0.6">#p=0.057</text>
<text transform="translate(562.20,419.60) rotate(-90) scale(0.9768,1)" font-size="13.4" fill="#000" stroke="#000" stroke-width="0.6">Spindles per minute</text>
<path d="M707.90,441.50 V382.70 H734.90 V441.50" fill="none" stroke="#000" stroke-width="2"/>
<path d="M742.60,441.50 V424.80 H770.00 V441.50" fill="none" stroke="#e8101a" stroke-width="2"/>
<circle cx="720.80" cy="304.00" r="2.7" fill="#000"/>
<circle cx="713.60" cy="311.50" r="2.7" fill="#000"/>
<circle cx="728.70" cy="310.80" r="2.7" fill="#000"/>
<circle cx="720.80" cy="316.80" r="2.7" fill="#000"/>
<circle cx="717.40" cy="329.00" r="2.7" fill="#000"/>
<circle cx="724.50" cy="327.70" r="2.7" fill="#000"/>
<circle cx="717.10" cy="329.40" r="2.7" fill="#000"/>
<circle cx="724.60" cy="328.10" r="2.7" fill="#000"/>
<circle cx="720.80" cy="341.90" r="2.7" fill="#000"/>
<circle cx="720.80" cy="350.10" r="2.7" fill="#000"/>
<circle cx="711.40" cy="353.20" r="2.7" fill="#000"/>
<circle cx="730.60" cy="353.20" r="2.7" fill="#000"/>
<circle cx="716.40" cy="357.00" r="2.7" fill="#000"/>
<circle cx="720.80" cy="359.10" r="2.7" fill="#000"/>
<circle cx="725.80" cy="357.00" r="2.7" fill="#000"/>
<circle cx="713.30" cy="361.10" r="2.7" fill="#000"/>
<circle cx="728.30" cy="365.20" r="2.7" fill="#000"/>
<circle cx="720.80" cy="367.00" r="2.7" fill="#000"/>
<circle cx="730.60" cy="370.40" r="2.7" fill="#000"/>
<circle cx="711.40" cy="373.70" r="2.7" fill="#000"/>
<circle cx="715.80" cy="374.60" r="2.7" fill="#000"/>
<circle cx="720.80" cy="376.40" r="2.7" fill="#000"/>
<circle cx="725.80" cy="373.90" r="2.7" fill="#000"/>
<circle cx="717.10" cy="379.00" r="2.7" fill="#000"/>
<circle cx="722.70" cy="379.60" r="2.7" fill="#000"/>
<circle cx="727.70" cy="379.00" r="2.7" fill="#000"/>
<circle cx="713.30" cy="382.10" r="2.7" fill="#000"/>
<circle cx="719.60" cy="382.10" r="2.7" fill="#000"/>
<circle cx="725.80" cy="382.10" r="2.7" fill="#000"/>
<circle cx="713.70" cy="376.50" r="2.7" fill="#000"/>
<circle cx="719.60" cy="377.20" r="2.7" fill="#000"/>
<circle cx="726.20" cy="376.50" r="2.7" fill="#000"/>
<circle cx="715.90" cy="382.30" r="2.7" fill="#000"/>
<circle cx="722.50" cy="381.60" r="2.7" fill="#000"/>
<circle cx="728.40" cy="380.90" r="2.7" fill="#000"/>
<circle cx="710.80" cy="388.90" r="2.7" fill="#000"/>
<circle cx="717.40" cy="386.00" r="2.7" fill="#000"/>
<circle cx="724.00" cy="385.30" r="2.7" fill="#000"/>
<circle cx="730.60" cy="388.90" r="2.7" fill="#000"/>
<circle cx="715.90" cy="394.10" r="2.7" fill="#000"/>
<circle cx="721.10" cy="394.10" r="2.7" fill="#000"/>
<circle cx="725.50" cy="393.30" r="2.7" fill="#000"/>
<circle cx="713.00" cy="402.10" r="2.7" fill="#000"/>
<circle cx="717.40" cy="401.40" r="2.7" fill="#000"/>
<circle cx="724.00" cy="399.20" r="2.7" fill="#000"/>
<circle cx="729.10" cy="401.40" r="2.7" fill="#000"/>
<circle cx="715.90" cy="405.80" r="2.7" fill="#000"/>
<circle cx="721.10" cy="406.50" r="2.7" fill="#000"/>
<circle cx="726.20" cy="405.10" r="2.7" fill="#000"/>
<circle cx="710.80" cy="413.90" r="2.7" fill="#000"/>
<circle cx="715.90" cy="414.60" r="2.7" fill="#000"/>
<circle cx="721.10" cy="416.10" r="2.7" fill="#000"/>
<circle cx="725.50" cy="415.30" r="2.7" fill="#000"/>
<circle cx="730.60" cy="413.90" r="2.7" fill="#000"/>
<circle cx="717.40" cy="411.70" r="2.7" fill="#000"/>
<circle cx="724.00" cy="412.40" r="2.7" fill="#000"/>
<circle cx="718.90" cy="417.50" r="2.7" fill="#000"/>
<circle cx="723.30" cy="418.30" r="2.7" fill="#000"/>
<circle cx="710.80" cy="424.10" r="2.7" fill="#000"/>
<circle cx="717.40" cy="426.40" r="2.7" fill="#000"/>
<circle cx="724.00" cy="424.10" r="2.7" fill="#000"/>
<circle cx="731.30" cy="421.20" r="2.7" fill="#000"/>
<circle cx="756.20" cy="393.20" r="2.7" fill="#e8101a"/>
<circle cx="759.60" cy="410.10" r="2.7" fill="#e8101a"/>
<circle cx="752.40" cy="415.30" r="2.7" fill="#e8101a"/>
<circle cx="748.30" cy="419.90" r="2.7" fill="#e8101a"/>
<circle cx="763.90" cy="419.30" r="2.7" fill="#e8101a"/>
<circle cx="755.80" cy="422.80" r="2.7" fill="#e8101a"/>
<circle cx="746.60" cy="430.80" r="2.7" fill="#e8101a"/>
<circle cx="749.50" cy="433.10" r="2.7" fill="#e8101a"/>
<circle cx="752.40" cy="434.80" r="2.7" fill="#e8101a"/>
<circle cx="755.80" cy="436.60" r="2.7" fill="#e8101a"/>
<circle cx="759.30" cy="434.80" r="2.7" fill="#e8101a"/>
<circle cx="762.70" cy="433.10" r="2.7" fill="#e8101a"/>
<circle cx="765.60" cy="431.40" r="2.7" fill="#e8101a"/>
<line x1="755.80" y1="420.80" x2="755.80" y2="427.40" stroke="#e8101a" stroke-width="2"/>
<line x1="750.30" y1="420.80" x2="761.30" y2="420.80" stroke="#e8101a" stroke-width="2"/>
<line x1="750.30" y1="427.40" x2="761.30" y2="427.40" stroke="#e8101a" stroke-width="2"/>
<line x1="694.40" y1="441.50" x2="699.40" y2="441.50" stroke="#000" stroke-width="2"/>
<line x1="694.40" y1="402.52" x2="699.40" y2="402.52" stroke="#000" stroke-width="2"/>
<line x1="694.40" y1="363.55" x2="699.40" y2="363.55" stroke="#000" stroke-width="2"/>
<line x1="694.40" y1="324.58" x2="699.40" y2="324.58" stroke="#000" stroke-width="2"/>
<line x1="694.40" y1="285.60" x2="699.40" y2="285.60" stroke="#000" stroke-width="2"/>
<line x1="699.40" y1="284.60" x2="699.40" y2="442.50" stroke="#000" stroke-width="2.2"/>
<line x1="694.40" y1="441.50" x2="776.00" y2="441.50" stroke="#000" stroke-width="2.2"/>
<text transform="translate(685.80,445.60) scale(1.0000,1)" font-size="12" fill="#000" stroke="#000" stroke-width="0.6">0</text>
<text transform="translate(685.93,406.62) scale(1.0000,1)" font-size="12" fill="#000" stroke="#000" stroke-width="0.6">2</text>
<text transform="translate(685.68,367.65) scale(1.0000,1)" font-size="12" fill="#000" stroke="#000" stroke-width="0.6">4</text>
<text transform="translate(685.86,328.68) scale(1.0000,1)" font-size="12" fill="#000" stroke="#000" stroke-width="0.6">6</text>
<text transform="translate(685.84,289.70) scale(1.0000,1)" font-size="12" fill="#000" stroke="#000" stroke-width="0.6">8</text>
<text transform="translate(711.76,458.80) scale(1.0315,1)" font-size="13.5" fill="#000" stroke="#000" stroke-width="0.6">NT</text>
<text transform="translate(746.87,458.80) scale(0.9907,1)" font-size="13.5" fill="#000" stroke="#000" stroke-width="0.6">AS</text>
<path d="M721.20,298.90 V290.10 H756.50 V382.80" fill="none" stroke="#000" stroke-width="2"/>
<text transform="translate(727.35,290.64) scale(1.1020,1)" font-size="15.32" font-weight="bold" fill="#000" stroke="#000" stroke-width="0.2">*</text>
<text transform="translate(735.55,290.64) scale(1.1020,1)" font-size="15.32" font-weight="bold" fill="#000" stroke="#000" stroke-width="0.2">*</text>
<text transform="translate(743.75,290.64) scale(1.1020,1)" font-size="15.32" font-weight="bold" fill="#000" stroke="#000" stroke-width="0.2">*</text>
</svg>
</body></html>
